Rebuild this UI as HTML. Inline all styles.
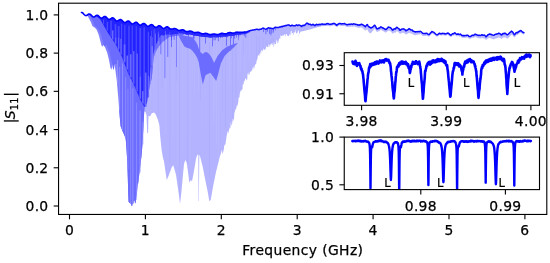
<!DOCTYPE html>
<html><head><meta charset="utf-8"><title>S11 plot</title>
<style>
html,body{margin:0;padding:0;background:#fff;width:550px;height:263px;overflow:hidden}
svg{display:block}
.t{font-family:"DejaVu Sans","Liberation Sans",sans-serif;font-size:13.889px;fill:#000;letter-spacing:0.3px;stroke:#000;stroke-width:0.25px}
.s{font-family:"DejaVu Sans","Liberation Sans",sans-serif;font-size:11.57px;fill:#000;stroke:#000;stroke-width:0.2px}
</style></head><body>
<svg width="550" height="263" viewBox="0 0 550 263">
<defs>
<clipPath id="mainclip"><rect x="58.55" y="3.2" width="488.25" height="211.25"/></clipPath>
<clipPath id="i2clip"><rect x="344.25" y="137.1" width="195.25" height="52.5"/></clipPath>
</defs>
<rect width="550" height="263" fill="#fff"/>
<g clip-path="url(#mainclip)">
<path d="M142.5 23.94 L142.7 23.81 L142.9 23.68 L143.1 23.6 L143.3 23.52 L143.5 23.47 L143.7 23.45 L143.9 23.44 L144.1 23.49 L144.3 23.55 L144.5 23.65 L144.7 23.77 L144.9 23.9 L145.1 24.08 L145.3 24.26 L145.5 24.46 L145.7 24.67 L145.9 24.88 L146.1 25.09 L146.3 25.3 L146.5 25.5 L146.7 25.68 L146.9 25.87 L147.1 25.99 L147.3 26.12 L147.5 26.22 L147.7 26.27 L147.9 26.33 L148.1 26.32 L148.3 26.3 L148.5 26.26 L148.7 26.17 L148.9 26.09 L149.1 25.96 L149.3 25.83 L149.5 25.69 L149.7 25.53 L149.9 25.38 L150.1 25.24 L150.3 25.1 L150.5 24.98 L150.7 24.87 L150.9 24.76 L151.1 24.71 L151.3 24.66 L151.5 24.64 L151.7 24.66 L151.9 24.68 L152.1 24.76 L152.3 24.85 L152.5 24.97 L152.7 25.12 L152.9 25.26 L153.1 25.45 L153.3 25.64 L153.5 25.84 L153.7 26.04 L153.9 26.25 L154.1 26.44 L154.3 26.63 L154.5 26.8 L154.7 26.95 L154.9 27.11 L155.1 27.2 L155.3 27.29 L155.5 27.35 L155.7 27.37 L155.9 27.4 L156.1 27.35 L156.3 27.3 L156.5 27.23 L156.7 27.13 L156.9 27.02 L157.1 26.88 L157.3 26.75 L157.5 26.6 L157.7 26.45 L157.9 26.31 L158.1 26.18 L158.3 26.05 L158.5 25.94 L158.7 25.86 L158.9 25.77 L159.1 25.75 L159.3 25.73 L159.5 25.74 L159.7 25.79 L159.9 25.84 L160.1 25.96 L160.3 26.08 L160.5 26.22 L160.7 26.39 L160.9 26.56 L161.1 26.76 L161.3 26.96 L161.5 27.16 L161.7 27.36 L161.9 27.56 L162.1 27.74 L162.3 27.91 L162.5 28.06 L162.7 28.19 L162.9 28.32 L163.1 28.38 L163.3 28.44 L163.5 28.46 L163.7 28.45 L163.9 28.44 L164.1 28.37 L164.3 28.29 L164.5 28.19 L164.7 28.07 L164.9 27.95 L165.1 27.8 L165.3 27.65 L165.5 27.51 L165.7 27.36 L165.9 27.22 L166.1 27.11 L166.3 27 L166.5 26.91 L166.7 26.86 L166.9 26.8 L167.1 26.81 L167.3 26.82 L167.5 26.86 L167.7 26.94 L167.9 27.03 L168.1 27.17 L168.3 27.32 L168.5 27.49 L168.7 27.68 L168.9 27.87 L169.1 28.08 L169.3 28.29 L169.5 28.5 L169.7 28.7 L169.9 28.9 L170.1 28.89 L170.3 28.89 L170.5 28.93 L170.7 29 L170.9 29.07 L171.1 29.1 L171.3 29.14 L171.5 29.15 L171.7 29.15 L171.9 29.14 L172.1 29.11 L172.3 29.07 L172.5 29.03 L172.7 28.97 L172.9 28.91 L173.1 28.85 L173.3 28.79 L173.5 28.73 L173.7 28.67 L173.9 28.62 L174.1 28.59 L174.3 28.56 L174.5 28.55 L174.7 28.55 L174.9 28.55 L175.1 28.6 L175.3 28.64 L175.5 28.7 L175.7 28.78 L175.9 28.86 L176.1 28.96 L176.3 29.07 L176.5 29.19 L176.7 29.32 L176.9 29.44 L177.1 29.57 L177.3 29.7 L177.5 29.82 L177.7 29.93 L177.9 30.05 L178.1 30.14 L178.3 30.23 L178.5 30.3 L178.7 30.35 L178.9 30.4 L179.1 30.42 L179.3 30.43 L179.5 30.43 L179.7 30.41 L179.9 30.39 L180.1 30.34 L180.3 30.29 L180.5 30.23 L180.7 30.17 L180.9 30.11 L181.1 30.04 L181.3 29.98 L181.5 29.93 L181.7 29.88 L181.9 29.84 L182.1 29.82 L182.3 29.8 L182.5 29.8 L182.7 29.82 L182.9 29.84 L183.1 29.9 L183.3 29.96 L183.5 30.03 L183.7 30.13 L183.9 30.22 L184.1 30.34 L184.3 30.45 L184.5 30.58 L184.7 30.7 L184.9 30.83 L185.1 30.96 L185.3 31.08 L185.5 31.19 L185.7 31.3 L185.9 31.4 L186.1 31.47 L186.3 31.55 L186.5 31.6 L186.7 31.63 L186.9 31.66 L187.1 31.66 L187.3 31.65 L187.5 31.63 L187.7 31.59 L187.9 31.55 L188.1 31.49 L188.3 31.43 L188.5 31.37 L188.7 31.3 L188.9 31.23 L189.1 31.17 L189.3 31.11 L189.5 31.06 L189.7 31.03 L189.9 30.99 L190.1 31.04 L190.3 31.1 L190.5 31.14 L190.7 31.18 L190.9 31.21 L191.1 31.27 L191.3 31.33 L191.5 31.4 L191.7 31.49 L191.9 31.57 L192.1 31.67 L192.3 31.76 L192.5 31.86 L192.7 31.96 L192.9 32.06 L193.1 32.16 L193.3 32.25 L193.5 32.33 L193.7 32.4 L193.9 32.48 L194.1 32.52 L194.3 32.57 L194.5 32.6 L194.7 32.62 L194.9 32.64 L195.1 32.63 L195.3 32.62 L195.5 32.6 L195.7 32.57 L195.9 32.54 L196.1 32.5 L196.3 32.46 L196.5 32.42 L196.7 32.38 L196.9 32.34 L197.1 32.31 L197.3 32.29 L197.5 32.27 L197.7 32.26 L197.9 32.25 L198.1 32.27 L198.3 32.29 L198.5 32.33 L198.7 32.37 L198.9 32.42 L199.1 32.5 L199.3 32.57 L199.5 32.66 L199.7 32.75 L199.9 32.84 L200.1 32.95 L200.3 33.05 L200.5 33.15 L200.7 33.25 L200.9 33.35 L201.1 33.44 L201.3 33.53 L201.5 33.6 L201.7 33.67 L201.9 33.73 L202.1 33.77 L202.3 33.8 L202.5 33.82 L202.7 33.83 L202.9 33.84 L203.1 33.82 L203.3 33.8 L203.5 33.78 L203.7 33.74 L203.9 33.71 L204.1 33.67 L204.3 33.62 L204.5 33.58 L204.7 33.53 L204.9 33.49 L205.1 33.45 L205.3 33.42 L205.5 33.4 L205.7 33.39 L205.9 33.38 L206.1 33.4 L206.3 33.42 L206.5 33.45 L206.7 33.5 L206.9 33.55 L207.1 33.62 L207.3 33.69 L207.5 33.77 L207.7 33.85 L207.9 33.94 L208.1 34.03 L208.3 34.12 L208.5 34.21 L208.7 34.29 L208.9 34.37 L209.1 34.43 L209.3 34.5 L209.5 34.55 L209.7 34.59 L209.9 34.62 L210.1 34.63 L210.3 34.64 L210.5 34.64 L210.7 34.62 L210.9 34.6 L211.1 34.56 L211.3 34.52 L211.5 34.47 L211.7 34.42 L211.9 34.37 L212.1 34.31 L212.3 34.26 L212.5 34.21 L212.7 34.17 L212.9 34.13 L213.1 34.1 L213.3 34.08 L213.5 34.06 L213.7 34.04 L213.9 34.02 L214.1 34.02 L214.3 34.02 L214.5 34.03 L214.7 34.05 L214.9 34.08 L215.1 34.12 L215.3 34.17 L215.5 34.21 L215.7 34.27 L215.9 34.32 L216.1 34.37 L216.3 34.43 L216.5 34.47 L216.7 34.51 L216.9 34.55 L217.1 34.57 L217.3 34.59 L217.5 34.59 L217.7 34.58 L217.9 34.57 L218.1 34.53 L218.3 34.49 L218.5 34.44 L218.7 34.37 L218.9 34.31 L219.1 34.23 L219.3 34.15 L219.5 34.06 L219.7 33.97 L219.9 33.88 L220.1 33.79 L220.3 33.71 L220.5 33.63 L220.7 33.56 L220.9 33.49 L221.1 33.44 L221.3 33.4 L221.5 33.37 L221.7 33.35 L221.9 33.33 L222.1 33.34 L222.3 33.35 L222.5 33.37 L222.7 33.4 L222.9 33.44 L223.1 33.49 L223.3 33.53 L223.5 33.58 L223.7 33.64 L223.9 33.69 L224.1 33.73 L224.3 33.78 L224.5 33.82 L224.7 33.84 L224.9 33.87 L225.1 33.88 L225.3 33.88 L225.5 33.87 L225.7 33.84 L225.9 33.82 L226.1 33.76 L226.3 33.71 L226.5 33.64 L226.7 33.57 L226.9 33.49 L227.1 33.4 L227.3 33.31 L227.5 33.22 L227.7 33.13 L227.9 33.04 L228.1 32.96 L228.3 32.87 L228.5 32.8 L228.7 32.74 L228.9 32.68 L229.1 32.64 L229.3 32.61 L229.5 32.58 L229.7 32.58 L229.9 32.57 L230.1 32.59 L230.3 32.61 L230.5 32.64 L230.7 32.68 L230.9 32.72 L231.1 32.77 L231.3 32.82 L231.5 32.88 L231.7 32.93 L231.9 32.98 L232.1 33.03 L232.3 33.07 L232.5 33.11 L232.7 33.13 L232.9 33.16 L233.1 33.16 L233.3 33.15 L233.5 33.14 L233.7 33.1 L233.9 33.07 L234.1 33.02 L234.3 32.96 L234.5 32.89 L234.7 32.82 L234.9 32.74 L235.1 32.66 L235.3 32.57 L235.5 32.49 L235.7 32.41 L235.9 32.33 L236.1 32.27 L236.3 32.22 L236.5 32.19 L236.7 32.17 L236.9 32.15 L237.1 32.16 L237.3 32.17 L237.5 32.18 L237.7 32.21 L237.9 32.23 L238.1 32.26 L238.3 32.28 L238.5 32.31 L238.7 32.32 L238.9 32.34 L239.1 32.35 L239.3 32.35 L239.5 32.34 L239.7 32.33 L239.9 32.31 L240.1 32.3 L240.3 32.29 L240.5 32.28 L240.7 32.28 L240.9 32.27 L241.1 32.26 L241.3 32.25 L241.5 32.25 L241.7 32.24 L241.9 32.23 L242.1 32.23 L242.3 32.22 L242.5 32.21 L242.7 32.21 L242.9 32.2 L243.1 32.19 L243.3 32.18 L243.5 32.18 L243.7 32.17 L243.9 32.16 L244.1 32.16 L244.3 32.15 L244.5 32.14 L244.7 32.14 L244.9 32.13 L245.1 32.12 L245.3 32.11 L245.5 32.09 L245.7 32.05 L245.9 32.02 L246.1 31.95 L246.3 31.89 L246.5 31.82 L246.7 31.75 L246.9 31.68 L247.1 31.62 L247.3 31.55 L247.5 31.48 L247.7 31.41 L247.9 31.33 L248.1 31.27 L248.3 31.2 L248.5 31.13 L248.7 31.05 L248.9 30.98 L249.1 30.92 L249.3 30.87 L249.5 30.82 L249.7 30.77 L249.9 30.72 L250.1 30.66 L250.3 30.6 L250.5 30.56 L250.7 30.52 L250.9 30.49 L251.1 30.43 L251.3 30.38 L251.5 30.33 L251.7 30.29 L251.9 30.25 L252.1 30.19 L252.3 30.13 L252.5 30.08 L252.7 30.04 L252.9 30 L253.1 29.95 L253.3 29.9 L253.5 29.87 L253.7 29.85 L253.9 29.83 L254.1 29.8 L254.3 29.77 L254.5 29.73 L254.7 29.7 L254.9 29.66 L255.1 29.6 L255.3 29.55 L255.5 29.5 L255.7 29.46 L255.9 29.43 L256.1 29.4 L256.3 29.37 L256.5 29.36 L256.7 29.36 L256.9 29.37 L257.1 29.36 L257.3 29.35 L257.5 29.39 L257.7 29.49 L257.9 29.6 L258.1 29.61 L258.3 29.62 L258.5 29.63 L258.7 29.64 L258.9 29.65 L259.1 29.6 L259.3 29.56 L259.5 29.48 L259.7 29.36 L259.9 29.25 L260.1 29.25 L260.3 29.26 L260.5 29.25 L260.7 29.23 L260.9 29.2 L261.1 29.15 L261.3 29.1 L261.5 29 L261.7 28.85 L261.9 28.69 L262.1 28.59 L262.3 28.48 L262.5 28.37 L262.7 28.24 L262.9 28.11 L263.1 28.14 L263.3 28.18 L263.5 28.22 L263.7 28.26 L263.9 28.31 L264.1 28.43 L264.3 28.54 L264.5 28.65 L264.7 28.76 L264.9 28.87 L265.1 28.97 L265.3 29.07 L265.5 29.14 L265.7 29.17 L265.9 29.2 L266.1 29.12 L266.3 29.03 L266.5 28.96 L266.7 28.91 L266.9 28.86 L267.1 28.67 L267.3 28.49 L267.5 28.34 L267.7 28.22 L267.9 28.1 L268.1 27.99 L268.3 27.88 L268.5 27.84 L268.7 27.86 L268.9 27.87 L269.1 27.92 L269.3 27.96 L269.5 27.99 L269.7 27.99 L269.9 27.99 L270.1 28.09 L270.3 28.19 L270.5 28.26 L270.7 28.32 L270.9 28.37 L271.1 28.37 L271.3 28.36 L271.5 28.39 L271.7 28.43 L271.9 28.47 L272.1 28.51 L272.3 28.55 L272.5 28.58 L272.7 28.61 L272.9 28.64 L273.1 28.6 L273.3 28.56 L273.5 28.5 L273.7 28.42 L273.9 28.34 L274.1 28.1 L274.3 27.86 L274.5 27.66 L274.7 27.51 L274.9 27.36 L275.1 27.27 L275.3 27.18 L275.5 27.17 L275.7 27.24 L275.9 27.31 L276.1 27.36 L276.3 27.41 L276.5 27.43 L276.7 27.43 L276.9 27.42 L277.1 27.47 L277.3 27.52 L277.5 27.55 L277.7 27.57 L277.9 27.58 L278.1 27.58 L278.3 27.58 L278.5 27.53 L278.7 27.43 L278.9 27.32 L279.1 27.19 L279.3 27.05 L279.5 26.98 L279.7 26.97 L279.9 26.97 L280.1 26.99 L280.3 27.01 L280.5 26.95 L280.7 26.82 L280.9 26.69 L281.1 26.61 L281.3 26.53 L281.5 26.49 L281.7 26.49 L281.9 26.48 L282.1 26.59 L282.3 26.7 L282.5 26.67 L282.7 26.49 L282.9 26.31 L283.1 26.28 L283.3 26.24 L283.5 26.19 L283.7 26.13 L283.9 26.07 L284.1 26.06 L284.3 26.05 L284.5 25.99 L284.7 25.87 L284.9 25.76 L285.1 25.68 L285.3 25.6 L285.5 25.59 L285.7 25.63 L285.9 25.67 L286.1 25.65 L286.3 25.63 L286.5 25.55 L286.7 25.41 L286.9 25.27 L287.1 25.2 L287.3 25.13 L287.5 25.05 L287.7 24.97 L287.9 24.88 L288.1 24.92 L288.3 24.95 L288.5 24.95 L288.7 24.91 L288.9 24.87 L289.1 25.06 L289.3 25.24 L289.5 25.4 L289.7 25.52 L289.9 25.64 L290.1 25.79 L290.3 25.93 L290.5 25.94 L290.7 25.82 L290.9 25.7 L291.1 25.6 L291.3 25.51 L291.5 25.41 L291.7 25.32 L291.9 25.22 L292.1 25.27 L292.3 25.32 L292.5 25.37 L292.7 25.43 L292.9 25.48 L293.1 25.63 L293.3 25.78 L293.5 25.85 L293.7 25.86 L293.9 25.86 L294.1 25.81 L294.3 25.76 L294.5 25.71 L294.7 25.65 L294.9 25.6 L295.1 25.67 L295.3 25.74 L295.5 25.68 L295.7 25.47 L295.9 25.27 L296.1 25.11 L296.3 24.95 L296.5 24.88 L296.7 24.91 L296.9 24.94 L297.1 25.14 L297.3 25.34 L297.5 25.45 L297.7 25.47 L297.9 25.5 L298.1 25.33 L298.3 25.17 L298.5 25.1 L298.7 25.11 L298.9 25.11 L299.1 25.12 L299.3 25.12 L299.5 25.17 L299.7 25.28 L299.9 25.38 L300.1 25.43 L300.3 25.49 L300.5 25.58 L300.7 25.72 L300.9 25.86 L301.1 26.07 L301.3 26.28 L301.5 26.36 L301.7 26.29 L301.9 26.22 L302.1 25.9 L302.3 25.57 L302.5 25.41 L302.7 25.4 L302.9 25.4 L303.1 25.38 L303.3 25.36 L303.5 25.37 L303.7 25.42 L303.9 25.46 L304.1 25.39 L304.3 25.31 L304.5 25.22 L304.7 25.11 L304.9 25 L305.1 24.86 L305.3 24.73 L305.5 24.52 L305.7 24.23 L305.9 23.94 L306.1 23.75 L306.3 23.57 L306.5 23.4 L306.7 23.26 L306.9 23.11 L307.1 23.16 L307.3 23.21 L307.5 23.29 L307.7 23.41 L307.9 23.52 L308.1 23.68 L308.3 23.84 L308.5 23.99 L308.7 24.15 L308.9 24.3 L309.1 24.25 L309.3 24.2 L309.5 24.17 L309.7 24.15 L309.9 24.14 L310.1 24.21 L310.3 24.29 L310.5 24.39 L310.7 24.54 L310.9 24.69 L311.1 24.86 L311.3 25.03 L311.5 25.06 L311.7 24.96 L311.9 24.85 L312.1 24.79 L312.3 24.73 L312.5 24.6 L312.7 24.39 L312.9 24.17 L313.1 24.31 L313.3 24.44 L313.5 24.58 L313.7 24.73 L313.9 24.88 L314.1 25.08 L314.3 25.28 L314.5 25.42 L314.7 25.48 L314.9 25.55 L315.1 25.39 L315.3 25.23 L315.5 25.06 L315.7 24.88 L315.9 24.69 L316.1 24.55 L316.3 24.41 L316.5 24.37 L316.7 24.43 L316.9 24.48 L317.1 24.6 L317.3 24.71 L317.5 24.76 L317.7 24.73 L317.9 24.71 L318.1 24.69 L318.3 24.66 L318.5 24.6 L318.7 24.48 L318.9 24.37 L319.1 24.39 L319.3 24.4 L319.5 24.4 L319.7 24.37 L319.9 24.34 L320.1 24.4 L320.3 24.46 L320.5 24.49 L320.7 24.5 L320.9 24.52 L321.1 24.36 L321.3 24.21 L321.5 24.08 L321.7 23.98 L321.9 23.88 L322.1 23.9 L322.3 23.93 L322.5 24.01 L322.7 24.16 L322.9 24.3 L323.1 24.31 L323.3 24.31 L323.5 24.3 L323.7 24.28 L323.9 24.26 L324.1 24.22 L324.3 24.17 L324.5 24.15 L324.7 24.16 L324.9 24.16 L325.1 24.18 L325.3 24.21 L325.5 24.22 L325.7 24.22 L325.9 24.22 L326.1 24.06 L326.3 23.89 L326.5 23.81 L326.7 23.8 L326.9 23.8 L327.1 23.72 L327.3 23.63 L327.5 23.58 L327.7 23.58 L327.9 23.57 L328.1 23.63 L328.3 23.69 L328.5 23.8 L328.7 23.96 L328.9 24.13 L329.1 24.19 L329.3 24.25 L329.5 24.3 L329.7 24.32 L329.9 24.35 L330.1 24.3 L330.3 24.26 L330.5 24.21 L330.7 24.17 L330.9 24.12 L331.1 24.13 L331.3 24.14 L331.5 24.1 L331.7 24.01 L331.9 23.92 L332.1 23.88 L332.3 23.83 L332.5 23.79 L332.7 23.74 L332.9 23.7 L333.1 23.56 L333.3 23.41 L333.5 23.39 L333.7 23.48 L333.9 23.58 L334.1 23.51 L334.3 23.45 L334.5 23.48 L334.7 23.62 L334.9 23.75 L335.1 23.86 L335.3 23.97 L335.5 24.14 L335.7 24.38 L335.9 24.61 L335.9 24.61 L335.7 24.63 L335.5 24.65 L335.3 24.67 L335.1 24.69 L334.9 24.71 L334.7 24.73 L334.5 24.75 L334.3 24.77 L334.1 24.79 L333.9 24.81 L333.7 24.83 L333.5 24.85 L333.3 24.87 L333.1 24.89 L332.9 24.91 L332.7 24.93 L332.5 24.95 L332.3 24.97 L332.1 24.99 L331.9 25.01 L331.7 25.03 L331.5 25.05 L331.3 25.07 L331.1 25.09 L330.9 25.11 L330.7 25.13 L330.5 25.15 L330.3 25.17 L330.1 25.19 L329.9 25.21 L329.7 25.23 L329.5 25.25 L329.3 25.27 L329.1 25.29 L328.9 25.31 L328.7 25.33 L328.5 25.35 L328.3 25.37 L328.1 25.39 L327.9 25.41 L327.7 25.43 L327.5 25.45 L327.3 25.47 L327.1 25.49 L326.9 25.51 L326.7 25.53 L326.5 25.55 L326.3 25.57 L326.1 25.59 L325.9 25.61 L325.7 25.63 L325.5 25.65 L325.3 25.67 L325.1 25.69 L324.9 25.71 L324.7 25.73 L324.5 25.75 L324.3 25.77 L324.1 25.79 L323.9 25.81 L323.7 25.83 L323.5 25.85 L323.3 25.87 L323.1 25.89 L322.9 25.91 L322.7 25.93 L322.5 25.95 L322.3 25.97 L322.1 25.99 L321.9 26.03 L321.7 26.08 L321.5 26.13 L321.3 26.19 L321.1 26.24 L320.9 26.29 L320.7 26.35 L320.5 26.4 L320.3 26.45 L320.1 26.51 L319.9 26.56 L319.7 26.61 L319.5 26.67 L319.3 26.72 L319.1 26.77 L318.9 26.83 L318.7 26.88 L318.5 26.93 L318.3 26.99 L318.1 27.04 L317.9 27.09 L317.7 27.15 L317.5 27.2 L317.3 27.25 L317.1 27.31 L316.9 27.36 L316.7 27.41 L316.5 27.47 L316.3 27.52 L316.1 27.57 L315.9 27.63 L315.7 27.7 L315.5 27.76 L315.3 27.82 L315.1 27.89 L314.9 27.95 L314.7 28.01 L314.5 28.08 L314.3 28.14 L314.1 28.2 L313.9 28.27 L313.7 28.33 L313.5 28.39 L313.3 28.46 L313.1 28.52 L312.9 28.58 L312.7 28.65 L312.5 28.71 L312.3 28.77 L312.1 28.84 L311.9 28.9 L311.7 28.96 L311.5 29.03 L311.3 29.09 L311.1 29.15 L310.9 29.22 L310.7 29.28 L310.5 29.34 L310.3 29.41 L310.1 29.47 L309.9 29.52 L309.7 29.57 L309.5 29.62 L309.3 29.66 L309.1 29.71 L308.9 29.75 L308.7 29.8 L308.5 29.85 L308.3 29.89 L308.1 29.94 L307.9 29.98 L307.7 30.03 L307.5 30.08 L307.3 30.12 L307.1 30.17 L306.9 30.21 L306.7 30.26 L306.5 30.31 L306.3 30.35 L306.1 30.4 L305.9 30.44 L305.7 30.49 L305.5 30.54 L305.3 30.58 L305.1 30.63 L304.9 30.67 L304.7 30.72 L304.5 30.77 L304.3 30.81 L304.1 30.86 L303.9 30.9 L303.7 30.95 L303.5 31 L303.3 31.04 L303.1 31.09 L302.9 31.13 L302.7 31.18 L302.5 31.23 L302.3 31.27 L302.1 31.32 L301.9 31.36 L301.7 31.41 L301.5 31.46 L301.3 31.5 L301.1 31.55 L300.9 31.59 L300.7 31.64 L300.5 31.69 L300.3 31.73 L300.1 31.78 L299.9 33.11 L299.7 33.16 L299.5 33.83 L299.3 33.88 L299.1 33.93 L298.9 31.1 L298.7 31.15 L298.5 31.19 L298.3 30.07 L298.1 30.12 L297.9 30.17 L297.7 32.59 L297.5 32.64 L297.3 32.69 L297.1 32.97 L296.9 33.02 L296.7 33.07 L296.5 33.61 L296.3 33.66 L296.1 33.71 L295.9 29.85 L295.7 29.9 L295.5 29.95 L295.3 31.4 L295.1 31.45 L294.9 31.5 L294.7 32.6 L294.5 32.65 L294.3 32.7 L294.1 32.31 L293.9 32.36 L293.7 32.4 L293.5 34.84 L293.3 34.89 L293.1 34.94 L292.9 32.89 L292.7 32.94 L292.5 32.99 L292.3 32.85 L292.1 32.9 L291.9 32.94 L291.7 30.84 L291.5 30.88 L291.3 30.93 L291.1 31.32 L290.9 31.37 L290.7 31.42 L290.5 35.27 L290.3 35.32 L290.1 35.37 L289.9 33.92 L289.7 33.95 L289.5 33.99 L289.3 35.56 L289.1 35.59 L288.9 35.63 L288.7 36.13 L288.5 36.17 L288.3 36.2 L288.1 35.74 L287.9 35.77 L287.7 35.81 L287.5 35.46 L287.3 35.49 L287.1 35.53 L286.9 33.89 L286.7 33.93 L286.5 33.96 L286.3 34.11 L286.1 34.15 L285.9 34.18 L285.7 36.32 L285.5 36.35 L285.3 36.38 L285.1 34.37 L284.9 34.4 L284.7 34.44 L284.5 33.99 L284.3 34.14 L284.1 34.3 L283.9 34.95 L283.7 35.11 L283.5 35.27 L283.3 36.27 L283.1 36.43 L282.9 36.59 L282.7 35.11 L282.5 35.27 L282.3 35.42 L282.1 35.66 L281.9 35.81 L281.7 35.97 L281.5 35.82 L281.3 35.97 L281.1 36.13 L280.9 35.11 L280.7 35.26 L280.5 35.42 L280.3 38.63 L280.1 38.79 L279.9 38.98 L279.7 38 L279.5 38.22 L279.3 38.44 L279.1 39.37 L278.9 39.59 L278.7 39.81 L278.5 42.12 L278.3 42.34 L278.1 42.56 L277.9 43.05 L277.7 43.29 L277.5 43.52 L277.3 40.84 L277.1 41.07 L276.9 41.31 L276.7 39.63 L276.5 39.86 L276.3 40.1 L276.1 43.85 L275.9 44.09 L275.7 44.32 L275.5 43.7 L275.3 43.93 L275.1 44.17 L274.9 44.29 L274.7 44.52 L274.5 44.66 L274.3 42.28 L274.1 42.32 L273.9 42.36 L273.7 47.1 L273.5 47.13 L273.3 47.17 L273.1 42.82 L272.9 42.86 L272.7 42.9 L272.5 44.93 L272.3 44.97 L272.1 45.01 L271.9 43.17 L271.7 43.2 L271.5 43.24 L271.3 44.47 L271.1 44.51 L270.9 44.54 L270.7 44.23 L270.5 44.27 L270.3 44.31 L270.1 47.02 L269.9 47.06 L269.7 47.1 L269.5 45.08 L269.3 45.12 L269.1 45.16 L268.9 44.55 L268.7 44.58 L268.5 44.62 L268.3 46.93 L268.1 46.96 L267.9 47 L267.7 47.07 L267.5 47.1 L267.3 47.14 L267.1 47.05 L266.9 47.09 L266.7 47.13 L266.5 45.76 L266.3 45.98 L266.1 46.2 L265.9 49.14 L265.7 49.36 L265.5 49.58 L265.3 48.45 L265.1 48.67 L264.9 48.88 L264.7 49.75 L264.5 49.97 L264.3 50.18 L264.1 49.78 L263.9 50 L263.7 50.22 L263.5 48.04 L263.3 48.26 L263.1 48.48 L262.9 50.91 L262.7 51.13 L262.5 51.35 L262.3 50.08 L262.1 50.32 L261.9 50.58 L261.7 50.03 L261.5 50.3 L261.3 50.56 L261.1 53.42 L260.9 53.69 L260.7 53.95 L260.5 51.62 L260.3 51.89 L260.1 52.15 L259.9 53.49 L259.7 53.75 L259.5 54.02 L259.3 55.88 L259.1 56.14 L258.9 56.41 L258.7 54.7 L258.5 54.96 L258.3 55.23 L258.1 55.24 L257.9 55.79 L257.7 56.33 L257.5 58.75 L257.3 59.29 L257.1 59.84 L256.9 59.56 L256.7 60.1 L256.5 60.64 L256.3 63.34 L256.1 63.88 L255.9 64.43 L255.7 63.76 L255.5 64.3 L255.3 64.84 L255.1 64.62 L254.9 65.16 L254.7 65.71 L254.5 67.51 L254.3 68.05 L254.1 68.32 L253.9 66.3 L253.7 66.57 L253.5 66.84 L253.3 69.32 L253.1 69.59 L252.9 69.86 L252.7 67.46 L252.5 67.73 L252.3 68 L252.1 70.96 L251.9 71.23 L251.7 71.5 L251.5 70.27 L251.3 70.54 L251.1 70.81 L250.9 71.25 L250.7 71.52 L250.5 71.79 L250.3 71.98 L250.1 72.28 L249.9 72.58 L249.7 74.62 L249.5 74.91 L249.3 75.21 L249.1 72.23 L248.9 72.53 L248.7 72.82 L248.5 74.54 L248.3 74.84 L248.1 75.14 L247.9 73.34 L247.7 73.64 L247.5 73.94 L247.3 78.95 L247.1 79.25 L246.9 79.55 L246.7 79.95 L246.5 80.25 L246.3 80.55 L246.1 78.46 L245.9 78.75 L245.7 79.05 L245.5 77.9 L245.3 78.2 L245.1 78.5 L244.9 80.63 L244.7 81.16 L244.5 81.68 L244.3 80.26 L244.1 80.79 L243.9 81.31 L243.7 83.95 L243.5 84.47 L243.3 85 L243.1 83.62 L242.9 84.15 L242.7 84.67 L242.5 88.66 L242.3 89.19 L242.1 89.71 L241.9 90.3 L241.7 90.82 L241.5 91.35 L241.3 89.34 L241.1 89.87 L240.9 90.48 L240.7 90.61 L240.5 91.31 L240.3 92.01 L240.1 92.6 L239.9 93.3 L239.7 94 L239.5 96.7 L239.3 97.4 L239.1 98.1 L238.9 97.03 L238.7 97.83 L238.5 98.63 L238.3 102.26 L238.1 103.06 L237.9 103.86 L237.7 104.89 L237.5 105.69 L237.3 106.49 L237.1 104.43 L236.9 105.2 L236.7 105.93 L236.5 107.5 L236.3 108.23 L236.1 108.97 L235.9 108.59 L235.7 109.32 L235.5 110.05 L235.3 109.97 L235.1 110.7 L234.9 111.43 L234.7 112.3 L234.5 113.03 L234.3 113.77 L234.1 118.18 L233.9 118.81 L233.7 119.35 L233.5 120.28 L233.3 120.82 L233.1 121.35 L232.9 117.87 L232.7 118.4 L232.5 118.94 L232.3 123.11 L232.1 123.64 L231.9 124.18 L231.7 124.89 L231.5 125.42 L231.3 125.96 L231.1 121.79 L230.9 122.34 L230.7 122.91 L230.5 127.3 L230.3 127.87 L230.1 128.45 L229.9 127.16 L229.7 127.74 L229.5 128.31 L229.3 129.26 L229.1 129.83 L228.9 130.41 L228.7 132.32 L228.5 132.9 L228.3 133.47 L228.1 130.45 L227.9 131.02 L227.7 131.59 L227.5 132.36 L227.3 132.93 L227.1 133.76 L226.9 134.96 L226.7 135.78 L226.5 136.61 L226.3 138.85 L226.1 139.68 L225.9 140.5 L225.7 143.01 L225.5 143.83 L225.3 144.62 L225.1 144.74 L224.9 145.53 L224.7 146.31 L224.5 144.34 L224.3 145.12 L224.1 145.91 L223.9 151.02 L223.7 151.81 L223.5 152.59 L223.3 148.8 L223.1 149.59 L222.9 150.38 L222.7 153.7 L222.5 153.58 L222.3 153.45 L222.1 152.53 L221.9 152.41 L221.7 152.28 L221.5 150.39 L221.3 150.26 L221.1 150.14 L220.9 153.55 L220.7 154.09 L220.5 154.64 L220.3 155.18 L220.1 155.73 L219.9 156.41 L219.7 157.22 L219.5 158.04 L219.3 158.85 L219.1 159.67 L218.9 160.48 L218.7 161.3 L218.5 162.09 L218.3 162.89 L218.1 163.68 L217.9 164.47 L217.7 165.26 L217.5 166.06 L217.3 166.85 L217.1 167.64 L216.9 168.43 L216.7 169.23 L216.5 170.02 L216.3 170.81 L216.1 171.6 L215.9 172.49 L215.7 173.48 L215.5 174.46 L215.3 175.45 L215.1 176.43 L214.9 177.42 L214.7 178.4 L214.5 179.39 L214.3 180.37 L214.1 181.36 L213.9 182.34 L213.7 183.33 L213.5 184.31 L213.3 185.3 L213.1 186.43 L212.9 187.56 L212.7 188.69 L212.5 189.82 L212.3 190.95 L212.1 192.08 L211.9 193.22 L211.7 194.35 L211.5 195.48 L211.3 196.61 L211.1 197.74 L210.9 198.87 L210.7 200 L210.5 200.19 L210.3 200.37 L210.1 200.56 L209.9 200.74 L209.7 200.93 L209.5 201.11 L209.3 201.3 L209.1 200.07 L208.9 198.84 L208.7 197.61 L208.5 196.38 L208.3 195.15 L208.1 193.92 L207.9 192.81 L207.7 191.82 L207.5 190.84 L207.3 189.85 L207.1 188.87 L206.9 187.88 L206.7 186.9 L206.5 185.91 L206.3 184.93 L206.1 183.94 L205.9 182.96 L205.7 181.97 L205.5 180.99 L205.3 180 L205.1 178.98 L204.9 177.95 L204.7 176.93 L204.5 175.91 L204.3 174.88 L204.1 173.86 L203.9 172.84 L203.7 171.82 L203.5 170.79 L203.3 169.77 L203.1 168.75 L202.9 167.72 L202.7 166.7 L202.5 165.91 L202.3 165.11 L202.1 164.32 L201.9 163.53 L201.7 162.74 L201.5 161.94 L201.3 161.15 L201.1 160.36 L200.9 159.57 L200.7 158.77 L200.5 157.98 L200.3 157.19 L200.1 156.4 L199.9 155.87 L199.7 155.62 L199.5 155.37 L199.3 155.12 L199.1 178 L198.9 201 L198.7 201 L198.5 201 L198.3 154.7 L198.1 154.7 L197.9 154.7 L197.7 154.7 L197.5 154.7 L197.3 154.7 L197.1 155.32 L196.9 155.93 L196.7 156.55 L196.5 157.16 L196.3 157.78 L196.1 158.39 L195.9 159.32 L195.7 160.55 L195.5 161.78 L195.3 163.01 L195.1 164.24 L194.9 165.47 L194.7 166.7 L194.5 167.84 L194.3 168.99 L194.1 170.13 L193.9 171.27 L193.7 172.41 L193.5 173.56 L193.3 174.7 L193.1 175.72 L192.9 176.73 L192.7 177.75 L192.5 178.76 L192.3 179.78 L192.1 180.79 L191.9 181.2 L191.7 181 L191.5 180.8 L191.3 180.6 L191.1 180.4 L190.9 180.2 L190.7 180 L190.5 180.39 L190.3 180.77 L190.1 181.16 L189.9 181.54 L189.7 181.93 L189.5 182.31 L189.3 182.7 L189.1 181.05 L188.9 179.41 L188.7 177.76 L188.5 176.12 L188.3 174.47 L188.1 172.82 L187.9 171.28 L187.7 169.85 L187.5 168.42 L187.3 166.99 L187.1 165.56 L186.9 164.13 L186.7 162.7 L186.5 162.31 L186.3 161.93 L186.1 161.54 L185.9 161.16 L185.7 160.77 L185.5 160.39 L185.3 160 L185.1 160.62 L184.9 161.23 L184.7 161.85 L184.5 162.46 L184.3 163.08 L184.1 163.69 L183.9 165.09 L183.7 167.26 L183.5 169.43 L183.3 171.6 L183.1 173.77 L182.9 175.94 L182.7 178.11 L182.5 180.28 L182.3 182.45 L182.1 184.62 L181.9 186.79 L181.7 188.96 L181.5 191.13 L181.3 193.3 L181.1 194.95 L180.9 196.59 L180.7 198.24 L180.5 199.88 L180.3 201.53 L180.1 203.18 L179.9 203.18 L179.7 201.53 L179.5 199.88 L179.3 198.24 L179.1 196.59 L178.9 194.95 L178.7 193.3 L178.5 191.92 L178.3 190.54 L178.1 189.17 L177.9 187.79 L177.7 186.41 L177.5 185.03 L177.3 183.66 L177.1 182.28 L176.9 180.9 L176.7 179.52 L176.5 178.14 L176.3 176.77 L176.1 175.39 L175.9 174.35 L175.7 173.66 L175.5 172.96 L175.3 172.26 L175.1 171.57 L174.9 170.87 L174.7 170.17 L174.5 169.48 L174.3 168.78 L174.1 168.09 L173.9 167.39 L173.7 166.69 L173.5 166 L173.3 165.3 L173.1 165.52 L172.9 165.73 L172.7 165.95 L172.5 166.16 L172.3 166.38 L172.1 166.59 L171.9 166.97 L171.7 167.5 L171.5 168.03 L171.3 168.56 L171.1 169.09 L170.9 169.62 L170.7 170.15 L170.5 170.68 L170.3 171.21 L170.1 171.74 L169.9 172.27 L169.7 172.8 L169.5 173.33 L169.3 173.86 L169.1 174.39 L168.9 174.92 L168.7 175.45 L168.5 175.98 L168.3 176.51 L168.1 177.04 L167.9 177.51 L167.7 177.92 L167.5 178.34 L167.3 178.75 L167.1 179.17 L166.9 179.58 L166.7 180 L166.5 178.61 L166.3 177.23 L166.1 175.84 L165.9 174.46 L165.7 173.07 L165.5 171.69 L165.3 170.3 L165.1 168.92 L164.9 167.53 L164.7 166.15 L164.5 164.76 L164.3 163.38 L164.1 161.99 L163.9 160.97 L163.7 160.31 L163.5 159.65 L163.3 158.99 L163.1 158.33 L162.9 157.43 L162.7 156.29 L162.5 155.14 L162.3 154 L162.1 152.86 L161.9 151.71 L161.7 150.57 L161.5 149 L161.3 147 L161.1 145 L160.9 143 L160.7 141 L160.5 139 L160.3 137 L160.1 135 L159.9 132.26 L159.7 129.51 L159.5 126.77 L159.3 125.02 L159.1 124.27 L158.9 123.52 L158.7 122.77 L158.5 122.02 L158.3 121.27 L158.1 120.52 L157.9 119.77 L157.7 119.17 L157.5 118.7 L157.3 118.23 L157.1 117.76 L156.9 117.29 L156.7 116.82 L156.5 116.35 L156.3 115.88 L156.1 115.41 L155.9 114.94 L155.7 114.47 L155.5 114 L155.3 113.8 L155.1 113.6 L154.9 113.4 L154.7 113.2 L154.5 113 L154.3 112.8 L154.1 112.6 L153.9 112.53 L153.7 112.6 L153.5 112.67 L153.3 112.74 L153.1 112.81 L152.9 112.88 L152.7 112.95 L152.5 113.02 L152.3 113.09 L152.1 113.16 L151.9 113.23 L151.7 113.3 L151.5 113.7 L151.3 114.1 L151.1 114.5 L150.9 114.9 L150.7 115.3 L150.5 115.7 L150.3 116.1 L150.1 116.28 L149.9 116.25 L149.7 116.22 L149.5 116.18 L149.3 116.15 L149.1 116.12 L148.9 116.08 L148.7 116.05 L148.5 116.02 L148.3 121.67 L148.1 133 L147.9 133 L147.7 133 L147.5 133 L147.3 133 L147.1 130.43 L146.9 125.29 L146.7 120.14 L146.5 115 L146.3 114.4 L146.1 113.8 L145.9 113.2 L145.7 112.6 L145.5 112 L145.3 111.92 L145.1 111.84 L144.9 111.76 L144.7 111.68 L144.5 111.6 L144.3 111.52 L144.1 111.44 L143.9 111.36 L143.7 111.28 L143.5 111.2 L143.3 111.12 L143.1 111.04 L142.9 110.4 L142.7 109.2 L142.5 108Z" fill="#b3b3ff"/>
<path d="M87 15.23 L87.4 14.97 L87.8 14.69 L88.2 14.42 L88.6 14.21 L89 14.08 L89.4 14.04 L89.8 14.14 L90.2 14.34 L90.6 14.63 L91 14.99 L91.4 15.41 L91.8 15.83 L92.2 16.23 L92.6 16.56 L93 16.81 L93.4 16.96 L93.8 16.96 L94.2 16.86 L94.6 16.67 L95 16.41 L95.4 16.11 L95.8 15.81 L96.2 15.55 L96.6 15.36 L97 15.26 L97.4 15.26 L97.8 15.41 L98.2 15.66 L98.6 16 L99 16.39 L99.4 16.82 L99.8 17.23 L100.2 17.59 L100.6 17.88 L101 18.08 L101.4 18.16 L101.8 18.1 L102.2 17.95 L102.6 17.72 L103 17.43 L103.4 17.13 L103.8 16.85 L104.2 16.64 L104.6 16.5 L105 16.47 L105.4 16.55 L105.8 16.77 L106.2 17.08 L106.6 17.45 L107 17.87 L107.4 18.3 L107.8 18.69 L108.2 19.01 L108.6 19.25 L109 19.38 L109.4 19.39 L109.8 19.27 L110.2 19.08 L110.6 18.84 L111 18.56 L111.4 18.29 L111.8 18.07 L112.2 17.92 L112.6 17.87 L113 17.93 L113.4 18.1 L113.8 18.4 L114.2 18.78 L114.6 19.21 L115 19.66 L115.4 20.11 L115.8 20.48 L116.2 20.78 L116.6 20.97 L117 21.05 L117.4 21.03 L117.8 20.88 L118.2 20.65 L118.6 20.39 L119 20.12 L119.4 19.86 L119.8 19.68 L120.2 19.58 L120.6 19.58 L121 19.69 L121.4 19.91 L121.8 20.25 L122.2 20.64 L122.6 21.07 L123 21.51 L123.4 21.91 L123.8 22.23 L124.2 22.44 L124.6 22.55 L125 22.56 L125.4 22.45 L125.8 22.23 L126.2 21.97 L126.6 21.68 L127 21.4 L127.4 21.15 L127.8 21.01 L128.2 20.97 L128.6 21.03 L129 21.21 L129.4 21.48 L129.8 21.87 L130.2 22.28 L130.6 22.71 L131 23.12 L131.4 23.48 L131.8 23.73 L132.2 23.88 L132.6 23.91 L133 23.84 L133.4 23.67 L133.8 23.41 L134.2 23.11 L134.6 22.82 L135 22.55 L135.4 22.34 L135.8 22.25 L136.2 22.26 L136.6 22.39 L137 22.62 L137.4 22.94 L137.8 23.35 L138.2 23.77 L138.6 24.19 L139 24.57 L139.4 24.89 L139.8 25.08 L140.2 25.15 L140.6 25.12 L141 24.98 L141.4 24.76 L141.8 24.47 L142.2 24.16 L142.6 23.88 L143 23.64 L143.4 23.48 L143.8 23.44 L144.2 23.52 L144.6 23.71 L145 23.99 L145.4 24.36 L145.8 24.78 L146.2 25.2 L146.6 25.59 L147 25.93 L147.4 26.19 L147.8 26.3 L148.2 26.31 L148.6 26.21 L149 26.03 L149.4 25.76 L149.8 25.46 L150.2 25.17 L150.6 24.93 L151 24.74 L151.4 24.63 L151.8 24.67 L152.2 24.81 L152.6 25.04 L153 25.36 L153.4 25.74 L153.8 26.14 L154.2 26.53 L154.6 26.88 L155 27.15 L155.4 27.34 L155.8 27.39 L156.2 27.33 L156.6 27.18 L157 26.95 L157.4 26.68 L157.8 26.38 L158.2 26.11 L158.6 25.9 L159 25.76 L159.4 25.72 L159.8 25.82 L160.2 26.02 L160.6 26.3 L161 26.66 L161.4 27.05 L161.8 27.46 L162.2 27.82 L162.6 28.13 L163 28.35 L163.4 28.47 L163.8 28.45 L164.2 28.33 L164.6 28.13 L165 27.87 L165.4 27.58 L165.8 27.29 L166.2 27.05 L166.6 26.88 L167 26.8 L167.4 26.82 L167.8 26.99 L168.2 27.25 L168.6 27.59 L169 27.98 L169.4 28.4 L169.8 28.8 L170.2 28.89 L170.6 28.96 L171 29.09 L171.4 29.15 L171.8 29.15 L172.2 29.09 L172.6 29 L173 28.88 L173.4 28.75 L173.8 28.65 L174.2 28.58 L174.6 28.55 L175 28.57 L175.4 28.66 L175.8 28.82 L176.2 29.02 L176.6 29.25 L177 29.51 L177.4 29.76 L177.8 29.99 L178.2 30.18 L178.6 30.32 L179 30.41 L179.4 30.44 L179.8 30.4 L180.2 30.31 L180.6 30.2 L181 30.08 L181.4 29.95 L181.8 29.86 L182.2 29.81 L182.6 29.81 L183 29.87 L183.4 29.99 L183.8 30.17 L184.2 30.4 L184.6 30.64 L185 30.89 L185 33 L184.6 33.42 L184.2 33.83 L183.8 34.25 L183.4 34.67 L183 35.09 L182.6 35.4 L182.2 35.4 L181.8 35.4 L181.4 35.4 L181 35.4 L180.6 35.4 L180.2 35.4 L179.8 35.4 L179.4 35.4 L179 35.4 L178.6 35.4 L178.2 35.4 L177.8 35.4 L177.4 35.42 L177 35.5 L176.6 35.58 L176.2 35.66 L175.8 35.74 L175.4 35.82 L175 35.9 L174.6 35.98 L174.2 36.06 L173.8 36.14 L173.4 36.22 L173 36.3 L172.6 36.38 L172.2 36.46 L171.8 36.54 L171.4 36.62 L171 36.7 L170.6 36.78 L170.2 36.86 L169.8 36.94 L169.4 37.02 L169 37.1 L168.6 37.4 L168.2 37.7 L167.8 38 L167.4 38.31 L167 38.61 L166.6 38.91 L166.2 39.21 L165.8 39.51 L165.4 39.81 L165 40.11 L164.6 40.42 L164.2 40.72 L163.8 41.02 L163.4 41.32 L163 41.62 L162.6 41.92 L162.2 42.22 L161.8 42.69 L161.4 43.22 L161 43.75 L160.6 44.27 L160.2 44.8 L159.8 45.32 L159.4 45.85 L159 46.37 L158.6 46.9 L158.2 47.42 L157.8 47.95 L157.4 48.47 L157 49 L156.6 50.02 L156.2 51.05 L155.8 52.07 L155.4 53.09 L155 54.12 L154.6 55.14 L154.2 56.16 L153.8 57.19 L153.4 59.96 L153 64.47 L152.6 68.98 L152.2 73.49 L151.8 78 L151.4 79.71 L151 81.43 L150.6 83.14 L150.2 84.86 L149.8 86.57 L149.4 88.29 L149 90 L148.6 91.6 L148.2 93.2 L147.8 94.8 L147.4 96.4 L147 98 L146.6 99.6 L146.2 101.2 L145.8 102.57 L145.4 103.71 L145 104.86 L144.6 106 L144.2 112 L143.8 119.29 L143.4 127.86 L143 135 L142.6 141.67 L142.2 147.5 L141.8 152.5 L141.4 156.63 L141 159.89 L140.6 163.14 L140.2 166.4 L139.8 169.66 L139.4 172.91 L139 176.17 L138.6 179.72 L138.2 183.56 L137.8 183.27 L137.4 187.11 L137 192.19 L136.6 195.11 L136.2 197.11 L135.8 201.64 L135.4 203.14 L135 203.14 L134.6 200.54 L134.2 200.54 L133.8 200.54 L133.4 203.56 L133 203.56 L132.6 203.56 L132.2 205.7 L131.8 205.7 L131.4 205.7 L131 203.44 L130.6 203.44 L130.2 203.44 L129.8 203.1 L129.4 203.1 L129 201.94 L128.6 201.88 L128.2 193.38 L127.8 177.4 L127.4 166.4 L127 157.28 L126.6 150.88 L126.2 145.38 L125.8 139.88 L125.4 137.8 L125 136.86 L124.6 135.92 L124.2 134.98 L123.8 134.05 L123.4 133.11 L123 132.17 L122.6 131.23 L122.2 130.25 L121.8 129.25 L121.4 128.25 L121 127.25 L120.6 126.25 L120.2 122.31 L119.8 117.38 L119.4 112.46 L119 107.36 L118.6 102.08 L118.2 96.8 L117.8 92.32 L117.4 87.84 L117 83.36 L116.6 79.24 L116.2 76.19 L115.8 73.14 L115.4 70.1 L115 67.05 L114.6 64 L114.2 64 L113.8 64 L113.4 64 L113 64 L112.6 64 L112.2 65.8 L111.8 68.2 L111.4 69.8 L111 69 L110.6 68.2 L110.2 66.4 L109.8 64.27 L109.4 62.13 L109 60 L108.6 58.35 L108.2 56.71 L107.8 55.06 L107.4 53.41 L107 52.25 L106.6 51.24 L106.2 50.23 L105.8 49.23 L105.4 48.22 L105 47.22 L104.6 46.21 L104.2 45.2 L103.8 44.91 L103.4 45.33 L103 45.75 L102.6 46.17 L102.2 46.59 L101.8 46.18 L101.4 44.94 L101 43.7 L100.6 42.1 L100.2 40.5 L99.8 38.9 L99.4 37.3 L99 35.7 L98.6 34.54 L98.2 33.53 L97.8 32.52 L97.4 31.51 L97 30.5 L96.6 29.75 L96.2 29.25 L95.8 28.75 L95.4 28.25 L95 27.75 L94.6 27.39 L94.2 27.16 L93.8 26.93 L93.4 26.71 L93 26.48 L92.6 26.26 L92.2 25.43 L91.8 24.41 L91.4 23.39 L91 22.37 L90.6 21.41 L90.2 20.66 L89.8 19.9 L89.4 19.14 L89 18.39 L88.6 17.63 L88.2 16.88 L87.8 16.3 L87.4 15.9 L87 15.5Z" fill="#8080ff"/>
<path d="M87 15.23 L87.4 14.97 L87.8 14.69 L88.2 14.42 L88.6 14.21 L89 14.08 L89.4 14.04 L89.8 14.14 L90.2 14.34 L90.6 14.63 L91 14.99 L91.4 15.41 L91.8 15.83 L92.2 16.23 L92.6 16.56 L93 16.81 L93.4 16.96 L93.8 16.96 L94.2 16.86 L94.6 16.67 L95 16.41 L95.4 16.11 L95.8 15.81 L96.2 15.55 L96.6 15.36 L97 15.26 L97.4 15.26 L97.8 15.41 L98.2 15.66 L98.6 16 L99 16.39 L99.4 16.82 L99.8 17.23 L100.2 17.59 L100.6 17.88 L101 18.08 L101.4 18.16 L101.8 18.1 L102.2 17.95 L102.6 17.72 L103 17.43 L103.4 17.13 L103.8 16.85 L104.2 16.64 L104.6 16.5 L105 16.47 L105.4 16.55 L105.8 16.77 L106.2 17.08 L106.6 17.45 L107 17.87 L107.4 18.3 L107.8 18.69 L108.2 19.01 L108.6 19.25 L109 19.38 L109.4 19.39 L109.8 19.27 L110.2 19.08 L110.6 18.84 L111 18.56 L111.4 18.29 L111.8 18.07 L112.2 17.92 L112.6 17.87 L113 17.93 L113.4 18.1 L113.8 18.4 L114.2 18.78 L114.6 19.21 L115 19.66 L115.4 20.11 L115.8 20.48 L116.2 20.78 L116.6 20.97 L117 21.05 L117.4 21.03 L117.8 20.88 L118.2 20.65 L118.6 20.39 L119 20.12 L119.4 19.86 L119.8 19.68 L120.2 19.58 L120.6 19.58 L121 19.69 L121.4 19.91 L121.8 20.25 L122.2 20.64 L122.6 21.07 L123 21.51 L123.4 21.91 L123.8 22.23 L124.2 22.44 L124.6 22.55 L125 22.56 L125.4 22.45 L125.8 22.23 L126.2 21.97 L126.6 21.68 L127 21.4 L127.4 21.15 L127.8 21.01 L128.2 20.97 L128.6 21.03 L129 21.21 L129.4 21.48 L129.8 21.87 L130.2 22.28 L130.6 22.71 L131 23.12 L131.4 23.48 L131.8 23.73 L132.2 23.88 L132.6 23.91 L133 23.84 L133.4 23.67 L133.8 23.41 L134.2 23.11 L134.6 22.82 L135 22.55 L135.4 22.34 L135.8 22.25 L136.2 22.26 L136.6 22.39 L137 22.62 L137.4 22.94 L137.8 23.35 L138.2 23.77 L138.6 24.19 L139 24.57 L139.4 24.89 L139.8 25.08 L140.2 25.15 L140.6 25.12 L141 24.98 L141.4 24.76 L141.8 24.47 L142.2 24.16 L142.6 23.88 L143 23.64 L143.4 23.48 L143.8 23.44 L144.2 23.52 L144.6 23.71 L145 23.99 L145.4 24.36 L145.8 24.78 L146.2 25.2 L146.6 25.59 L147 25.93 L147.4 26.19 L147.8 26.3 L148.2 26.31 L148.6 26.21 L149 26.03 L149.4 25.76 L149.8 25.46 L150.2 25.17 L150.6 24.93 L151 24.74 L151.4 24.63 L151.8 24.67 L152.2 24.81 L152.6 25.04 L153 25.36 L153.4 25.74 L153.8 26.14 L154.2 26.53 L154.6 26.88 L155 27.15 L155.4 27.34 L155.8 27.39 L156.2 27.33 L156.6 27.18 L157 26.95 L157.4 26.68 L157.8 26.38 L158.2 26.11 L158.6 25.9 L159 25.76 L159.4 25.72 L159.8 25.82 L160.2 26.02 L160.6 26.3 L161 26.66 L161.4 27.05 L161.8 27.46 L162.2 27.82 L162.6 28.13 L163 28.35 L163.4 28.47 L163.8 28.45 L164.2 28.33 L164.6 28.13 L165 27.87 L165.4 27.58 L165.8 27.29 L166.2 27.05 L166.6 26.88 L167 26.8 L167.4 26.82 L167.8 26.99 L168.2 27.25 L168.6 27.59 L169 27.98 L169.4 28.4 L169.8 28.8 L170.2 28.89 L170.6 28.96 L171 29.09 L171.4 29.15 L171.8 29.15 L172.2 29.09 L172.6 29 L173 28.88 L173.4 28.75 L173.8 28.65 L174.2 28.58 L174.6 28.55 L175 28.57 L175.4 28.66 L175.8 28.82 L176.2 29.02 L176.6 29.25 L177 29.51 L177.4 29.76 L177.8 29.99 L178.2 30.18 L178.6 30.32 L179 30.41 L179.4 30.44 L179.8 30.4 L180.2 30.31 L180.6 30.2 L181 30.08 L181.4 29.95 L181.8 29.86 L182.2 29.81 L182.6 29.81 L183 29.87 L183.4 29.99 L183.8 30.17 L184.2 30.4 L184.6 30.64 L185 30.89 L185 33 L184.6 33.42 L184.2 33.83 L183.8 34.25 L183.4 34.67 L183 35.09 L182.6 35.4 L182.2 35.4 L181.8 35.4 L181.4 35.4 L181 35.4 L180.6 35.4 L180.2 35.4 L179.8 35.4 L179.4 35.4 L179 35.4 L178.6 35.4 L178.2 35.4 L177.8 35.4 L177.4 35.42 L177 35.5 L176.6 35.58 L176.2 35.66 L175.8 35.74 L175.4 35.82 L175 35.9 L174.6 35.98 L174.2 36.06 L173.8 36.14 L173.4 36.22 L173 36.3 L172.6 36.38 L172.2 36.46 L171.8 36.54 L171.4 36.62 L171 36.7 L170.6 36.78 L170.2 36.86 L169.8 36.94 L169.4 37.02 L169 37.1 L168.6 37.4 L168.2 37.7 L167.8 38 L167.4 38.31 L167 38.61 L166.6 38.91 L166.2 39.21 L165.8 39.51 L165.4 39.81 L165 40.11 L164.6 40.42 L164.2 40.72 L163.8 41.02 L163.4 41.32 L163 41.62 L162.6 41.92 L162.2 42.22 L161.8 42.69 L161.4 43.22 L161 43.75 L160.6 44.27 L160.2 44.8 L159.8 45.32 L159.4 45.85 L159 46.37 L158.6 46.9 L158.2 47.42 L157.8 47.95 L157.4 48.47 L157 49 L156.6 50.02 L156.2 51.05 L155.8 52.07 L155.4 53.09 L155 54.12 L154.6 55.14 L154.2 56.16 L153.8 57.19 L153.4 59.96 L153 64.47 L152.6 68.98 L152.2 73.49 L151.8 78 L151.4 79.71 L151 81.43 L150.6 83.14 L150.2 84.86 L149.8 86.57 L149.4 88.29 L149 90 L148.6 91.6 L148.2 93.2 L147.8 94.8 L147.4 96.4 L147 98 L146.6 99.6 L146.2 101.2 L145.8 102.57 L145.4 103.71 L145 104.86 L144.6 106 L144.2 112 L143.8 119.29 L143.4 127.86 L143 135 L142.6 141.67 L142.2 147.5 L141.8 152.5 L141.4 156.63 L141 159.89 L140.6 163.14 L140.2 166.4 L139.8 169.66 L139.4 172.91 L139 176.17 L138.6 179.72 L138.2 183.56 L137.8 183.27 L137.4 187.11 L137 192.19 L136.6 195.11 L136.2 197.11 L135.8 201.64 L135.4 203.14 L135 203.14 L134.6 200.54 L134.2 200.54 L133.8 200.54 L133.4 203.56 L133 203.56 L132.6 203.56 L132.2 205.7 L131.8 205.7 L131.4 205.7 L131 203.44 L130.6 203.44 L130.2 203.44 L129.8 203.1 L129.4 203.1 L129 201.94 L128.6 201.88 L128.2 193.38 L127.8 177.4 L127.4 166.4 L127 157.28 L126.6 150.88 L126.2 145.38 L125.8 139.88 L125.4 137.8 L125 136.86 L124.6 135.92 L124.2 134.98 L123.8 134.05 L123.4 133.11 L123 132.17 L122.6 131.23 L122.2 130.25 L121.8 129.25 L121.4 128.25 L121 127.25 L120.6 126.25 L120.2 122.31 L119.8 117.38 L119.4 112.46 L119 80 L118.6 76.95 L118.2 73.9 L117.8 70.86 L117.4 67.81 L117 64.76 L116.6 64 L116.2 64 L115.8 64 L115.4 64 L115 64 L114.6 65.2 L114.2 67.6 L113.8 70 L113.4 69.2 L113 68.4 L112.6 66.93 L112.2 64.8 L111.8 62.67 L111.4 60.53 L111 58.76 L110.6 57.12 L110.2 55.47 L109.8 53.82 L109.4 52.5 L109 51.49 L108.6 50.48 L108.2 49.48 L107.8 48.47 L107.4 47.47 L107 46.46 L106.6 45.45 L106.2 44.8 L105.8 45.22 L105.4 45.64 L105 46.06 L104.6 46.48 L104.2 46.49 L103.8 45.25 L103.4 44.01 L103 42.5 L102.6 40.9 L102.2 39.3 L101.8 37.7 L101.4 36.1 L101 34.8 L100.6 33.79 L100.2 32.78 L99.8 31.77 L99.4 30.76 L99 29.88 L98.6 29.38 L98.2 28.88 L97.8 28.38 L97.4 27.88 L97 27.44 L96.6 27.22 L96.2 26.99 L95.8 26.77 L95.4 26.54 L95 26.31 L94.6 25.69 L94.2 24.67 L93.8 23.64 L93.4 22.62 L93 21.6 L92.6 20.84 L92.2 20.09 L91.8 19.33 L91.4 18.58 L91 17.82 L90.6 17.07 L90.2 16.4 L89.8 16 L89.4 15.6 L89 15.5 L88.6 15.5 L88.2 15.5 L87.8 15.5 L87.4 15.5 L87 15.5Z" fill="#6c6cff"/>
<path d="M96 15.67 L96.5 15.39 L97 15.26 L97.5 15.3 L98 15.52 L98.5 15.9 L99 16.39 L99.5 16.92 L100 17.42 L100.5 17.82 L101 18.08 L101.5 18.15 L102 18.04 L102.5 17.78 L103 17.43 L103.5 17.06 L104 16.73 L104.5 16.52 L105 16.47 L105.5 16.6 L106 16.91 L106.5 17.35 L107 17.87 L107.5 18.4 L108 18.87 L108.5 19.2 L109 19.38 L109.5 19.36 L110 19.19 L110.5 18.9 L111 18.56 L111.5 18.23 L112 17.98 L112.5 17.87 L113 17.93 L113.5 18.17 L114 18.58 L114.5 19.1 L115 19.66 L115.5 20.2 L116 20.64 L116.5 20.94 L117 21.05 L117.5 20.99 L118 20.78 L118.5 20.46 L119 20.12 L119.5 19.81 L120 19.62 L120.5 19.56 L121 19.69 L121.5 19.99 L122 20.44 L122.5 20.96 L123 21.51 L123.5 21.99 L124 22.35 L124.5 22.54 L125 22.56 L125.5 22.4 L126 22.11 L126.5 21.75 L127 21.4 L127.5 21.12 L128 20.97 L128.5 21 L129 21.21 L129.5 21.58 L130 22.07 L130.5 22.6 L131 23.12 L131.5 23.54 L132 23.82 L132.5 23.92 L133 23.84 L133.5 23.61 L134 23.27 L134.5 22.89 L135 22.55 L135.5 22.32 L136 22.24 L136.5 22.34 L137 22.62 L137.5 23.04 L138 23.56 L138.5 24.09 L139 24.57 L139.5 24.93 L140 25.13 L140.5 25.14 L141 24.98 L141.5 24.69 L142 24.32 L142.5 23.94 L143 23.64 L143.5 23.47 L144 23.47 L144.5 23.65 L145 23.99 L145.5 24.46 L146 24.99 L146.5 25.5 L147 25.93 L147.5 26.22 L148 26.33 L148.5 26.26 L149 26.03 L149.5 25.69 L150 25.31 L150.5 24.98 L151 24.74 L151.5 24.64 L152 24.72 L152.5 24.97 L153 25.36 L153.5 25.84 L154 26.34 L154.5 26.8 L155 27.15 L155.5 27.35 L156 27.37 L156.5 27.23 L157 26.95 L157.5 26.6 L158 26.24 L158.5 25.94 L159 25.76 L159.5 25.74 L160 25.9 L160.5 26.22 L161 26.66 L161.5 27.16 L162 27.65 L162.5 28.06 L163 28.35 L163.5 28.46 L164 28.4 L164.5 28.19 L165 27.87 L165.5 27.51 L166 27.16 L166.5 26.91 L167 26.8 L167.5 26.86 L168 27.1 L168.5 27.49 L169 27.98 L169.5 28.5 L170 28.9 L170.5 28.93 L171 29.09 L171.5 29.15 L172 29.13 L172.5 29.03 L173 28.88 L173.5 28.73 L174 28.61 L174.5 28.55 L175 28.57 L175.5 28.7 L176 28.91 L176.5 29.19 L177 29.51 L177.5 29.82 L178 30.09 L178.5 30.3 L179 30.41 L179.5 30.43 L180 30.36 L180.5 30.23 L181 30.08 L181.5 29.93 L182 29.83 L182.5 29.8 L183 29.87 L183.5 30.03 L184 30.28 L184.5 30.58 L185 30.89 L185.5 31.19 L186 31.44 L186.5 31.6 L187 31.66 L187.5 31.63 L188 31.52 L188.5 31.37 L189 31.2 L189.5 31.06 L190 31.02 L190.5 31.14 L191 31.24 L191.5 31.4 L192 31.62 L192.5 31.86 L193 32.11 L193.5 32.33 L194 32.5 L194.5 32.6 L195 32.63 L195.5 32.6 L196 32.52 L196.5 32.42 L197 32.33 L197.5 32.27 L198 32.26 L198.5 32.33 L199 32.46 L199.5 32.66 L200 32.9 L200.5 33.15 L201 33.4 L201.5 33.6 L202 33.75 L202.5 33.82 L203 33.83 L203.5 33.78 L204 33.69 L204.5 33.58 L205 33.47 L205.5 33.4 L206 33.39 L206.5 33.45 L207 33.58 L207.5 33.77 L208 33.98 L208.5 34.21 L209 34.4 L209.5 34.55 L210 34.63 L210.5 34.64 L211 34.58 L211.5 34.47 L212 34.34 L212.5 34.21 L213 34.11 L213.5 34.06 L214 34.02 L214.5 34.03 L215 34.1 L215.5 34.21 L216 34.35 L216.5 34.47 L217 34.56 L217.5 34.59 L218 34.55 L218.5 34.44 L219 34.27 L219.5 34.06 L220 33.84 L220.5 33.63 L221 33.47 L221.5 33.37 L222 33.33 L222.5 33.37 L223 33.46 L223.5 33.58 L224 33.71 L224.5 33.82 L225 33.87 L225.5 33.87 L226 33.79 L226.5 33.64 L227 33.45 L227.5 33.22 L228 33 L228.5 32.8 L229 32.66 L229.5 32.58 L230 32.58 L230.5 32.64 L231 32.75 L231.5 32.88 L232 33 L232.5 33.11 L233 33.16 L233.5 33.14 L234 33.04 L234.5 32.89 L235 32.7 L235.5 32.49 L236 32.3 L236.5 32.19 L237 32.15 L237.5 32.18 L238 32.24 L238.5 32.31 L239 32.34 L239.5 32.34 L240 32.31 L240.5 32.28 L241 32.26 L241.5 32.25 L242 32.23 L242.5 32.21 L243 32.19 L243.5 32.18 L244 32.16 L244.5 32.14 L245 32.12 L245.5 32.09 L246 31.99 L246.5 31.82 L247 31.65 L247.5 31.48 L248 31.3 L248 32.5 L247.5 32.61 L247 32.71 L246.5 32.82 L246 32.92 L245.5 33.03 L245 33.14 L244.5 33.24 L244 33.35 L243.5 33.46 L243 33.56 L242.5 33.67 L242 33.78 L241.5 33.88 L241 33.99 L240.5 34.09 L240 34.2 L239.5 34.29 L239 34.38 L238.5 34.47 L238 34.56 L237.5 34.65 L237 34.74 L236.5 34.83 L236 34.92 L235.5 35.01 L235 35.1 L234.5 35.19 L234 35.28 L233.5 35.37 L233 35.46 L232.5 35.55 L232 35.64 L231.5 35.73 L231 35.82 L230.5 35.91 L230 36 L229.5 36.05 L229 36.1 L228.5 36.15 L228 36.2 L227.5 36.25 L227 36.3 L226.5 36.35 L226 36.4 L225.5 36.45 L225 36.5 L224.5 36.55 L224 36.6 L223.5 36.65 L223 36.7 L222.5 36.75 L222 36.8 L221.5 36.85 L221 36.9 L220.5 36.95 L220 37 L219.5 37.02 L219 37.05 L218.5 37.08 L218 37.1 L217.5 37.12 L217 37.15 L216.5 37.17 L216 37.2 L215.5 37.23 L215 37.25 L214.5 37.27 L214 37.3 L213.5 37.33 L213 37.35 L212.5 37.38 L212 37.4 L211.5 37.42 L211 37.45 L210.5 37.48 L210 37.5 L209.5 37.45 L209 37.4 L208.5 37.35 L208 37.3 L207.5 37.25 L207 37.2 L206.5 37.15 L206 37.1 L205.5 37.05 L205 37 L204.5 36.95 L204 36.9 L203.5 36.85 L203 36.8 L202.5 36.75 L202 36.7 L201.5 36.65 L201 36.6 L200.5 36.55 L200 36.5 L199.5 36.4 L199 36.3 L198.5 36.2 L198 36.1 L197.5 36 L197 35.9 L196.5 35.8 L196 35.7 L195.5 35.6 L195 35.5 L194.5 35.4 L194 35.3 L193.5 35.2 L193 35.1 L192.5 35 L192 34.9 L191.5 34.8 L191 34.7 L190.5 34.6 L190 34.5 L189.5 34.42 L189 34.33 L188.5 34.25 L188 34.17 L187.5 34.08 L187 34 L186.5 33.92 L186 33.83 L185.5 33.75 L185 33.67 L184.5 33.58 L184 33.5 L183.5 33.42 L183 33.33 L182.5 33.25 L182 33.17 L181.5 33.08 L181 33 L180.5 33.1 L180 33.2 L179.5 33.3 L179 33.4 L178.5 33.5 L178 33.6 L177.5 33.7 L177 33.8 L176.5 33.9 L176 34 L175.5 34.04 L175 34.08 L174.5 34.12 L174 34.17 L173.5 34.21 L173 34.25 L172.5 34.29 L172 34.33 L171.5 34.38 L171 34.42 L170.5 34.46 L170 34.5 L169.5 34.5 L169 34.5 L168.5 34.5 L168 34.5 L167.5 34.5 L167 34.5 L166.5 34.5 L166 34.5 L165.5 34.5 L165 34.5 L164.5 34.5 L164 34.5 L163.5 34.5 L163 34.5 L162.5 34.5 L162 34.5 L161.5 35 L161 35.5 L160.5 36 L160 36.5 L159.5 37.38 L159 38.25 L158.5 39.12 L158 40 L157.5 41.2 L157 42.4 L156.5 43.6 L156 44.8 L155.5 46 L155 47.8 L154.5 49.6 L154 51.4 L153.5 53.2 L153 55 L152.5 58 L152 61 L151.5 64 L151 67 L150.5 70 L150 75 L149.5 80 L149 85 L148.5 90 L148 95 L147.5 99 L147 103 L146.5 103.8 L146 104.6 L145.5 105.4 L145 106.2 L144.5 107 L144 106.25 L143.5 105.5 L143 104.75 L142.5 104 L142 103 L141.5 102 L141 101 L140.5 100 L140 99 L139.5 97.83 L139 96.67 L138.5 95.5 L138 94.33 L137.5 93.17 L137 92 L136.5 90.83 L136 89.67 L135.5 88.5 L135 87.33 L134.5 86.17 L134 85 L133.5 84 L133 83 L132.5 82 L132 81 L131.5 80 L131 79 L130.5 78 L130 77 L129.5 76 L129 75 L128.5 74 L128 73 L127.5 71.67 L127 70.33 L126.5 69 L126 67.67 L125.5 66.33 L125 65 L124.5 63.67 L124 62.33 L123.5 61 L123 59.67 L122.5 58.33 L122 57 L121.5 56 L121 55 L120.5 54 L120 53 L119.5 52 L119 51 L118.5 50 L118 49 L117.5 48 L117 47 L116.5 46 L116 45 L115.5 44.25 L115 43.5 L114.5 42.75 L114 42 L113.5 41.25 L113 40.5 L112.5 39.75 L112 39 L111.5 38.25 L111 37.5 L110.5 36.75 L110 36 L109.5 35.25 L109 34.5 L108.5 33.75 L108 33 L107.5 32.12 L107 31.25 L106.5 30.38 L106 29.5 L105.5 28.62 L105 27.75 L104.5 26.88 L104 26 L103.5 25.12 L103 24.25 L102.5 23.38 L102 22.5 L101.5 21.62 L101 20.75 L100.5 19.88 L100 19 L99.5 18.62 L99 18.25 L98.5 17.88 L98 17.5 L97.5 17.12 L97 16.75 L96.5 16.38 L96 16Z" fill="#2323ff"/>
<rect x="103" y="19.66" width="1.12" height="4.59" fill="#5252ff" opacity="0.85"/>
<rect x="106.65" y="21.9" width="1.44" height="8.73" fill="#5252ff" opacity="0.85"/>
<rect x="110.33" y="20.56" width="1.49" height="15.93" fill="#5252ff" opacity="0.85"/>
<rect x="114.65" y="24.17" width="1.68" height="18.8" fill="#5252ff" opacity="0.85"/>
<rect x="117.8" y="25.95" width="1.79" height="22.65" fill="#5252ff" opacity="0.85"/>
<rect x="121.03" y="23.74" width="1.12" height="31.32" fill="#5252ff" opacity="0.85"/>
<rect x="124.19" y="25.2" width="1.23" height="37.64" fill="#5252ff" opacity="0.85"/>
<rect x="128.26" y="25.74" width="1.38" height="47.77" fill="#5252ff" opacity="0.85"/>
<rect x="131.7" y="25.62" width="1.17" height="54.79" fill="#5252ff" opacity="0.85"/>
<rect x="135.7" y="26.17" width="1.14" height="62.8" fill="#5252ff" opacity="0.85"/>
<rect x="139.37" y="27.97" width="1.78" height="69.56" fill="#5252ff" opacity="0.85"/>
<rect x="143.38" y="27.39" width="1.54" height="77.92" fill="#5252ff" opacity="0.85"/>
<rect x="147.71" y="31.72" width="1.37" height="65.63" fill="#5252ff" opacity="0.85"/>
<rect x="151.04" y="29.41" width="1.15" height="37.34" fill="#5252ff" opacity="0.85"/>
<rect x="154.55" y="28.62" width="1.36" height="20.79" fill="#5252ff" opacity="0.85"/>
<rect x="157.65" y="29.15" width="1.73" height="11.69" fill="#5252ff" opacity="0.85"/>
<rect x="112" y="30.38" width="1.45" height="9.12" fill="#6a6aff"/>
<rect x="115.19" y="37.55" width="1.14" height="6.73" fill="#6a6aff"/>
<rect x="118.08" y="37.44" width="1.05" height="12.23" fill="#6a6aff"/>
<rect x="120.32" y="38.69" width="1.24" height="15.44" fill="#6a6aff"/>
<rect x="123.64" y="44.42" width="1.75" height="17.45" fill="#6a6aff"/>
<rect x="126.48" y="55.5" width="1.65" height="13.94" fill="#6a6aff"/>
<rect x="129.9" y="54.25" width="1.65" height="23.06" fill="#6a6aff"/>
<rect x="133.13" y="51.04" width="1.27" height="32.72" fill="#6a6aff"/>
<rect x="136.51" y="53.61" width="1.27" height="37.75" fill="#6a6aff"/>
<rect x="139.69" y="76.49" width="1.37" height="22.28" fill="#6a6aff"/>
<rect x="142.01" y="91.16" width="1.61" height="12.36" fill="#6a6aff"/>
<rect x="144.93" y="72.58" width="1.59" height="34.22" fill="#6a6aff"/>
<rect x="147.8" y="75.67" width="1.14" height="21.4" fill="#6a6aff"/>
<rect x="151.27" y="46.1" width="1.59" height="19.76" fill="#6a6aff"/>
<rect x="117" y="59.96" width="1.12" height="23.4" fill="#9a9aff" opacity="0.75"/>
<rect x="119.22" y="66.8" width="0.9" height="43.5" fill="#9a9aff" opacity="0.75"/>
<rect x="121.99" y="63.35" width="1.04" height="66.37" fill="#9a9aff" opacity="0.75"/>
<rect x="125.24" y="77.14" width="0.89" height="60.27" fill="#9a9aff" opacity="0.75"/>
<rect x="127.52" y="88.61" width="0.88" height="80.45" fill="#9a9aff" opacity="0.75"/>
<rect x="130.28" y="79.39" width="0.88" height="124.11" fill="#9a9aff" opacity="0.75"/>
<rect x="132.27" y="88.41" width="1.13" height="115.09" fill="#9a9aff" opacity="0.75"/>
<rect x="136.21" y="102.67" width="0.86" height="97.27" fill="#9a9aff" opacity="0.75"/>
<rect x="139.46" y="110.27" width="1.2" height="62.18" fill="#9a9aff" opacity="0.75"/>
<rect x="142.43" y="122.08" width="0.95" height="22.4" fill="#9a9aff" opacity="0.75"/>
<rect x="263" y="28.12" width="0.8" height="4" fill="#3c3cff" opacity="0.7"/>
<rect x="265.5" y="29.14" width="0.8" height="5" fill="#3c3cff" opacity="0.7"/>
<rect x="267" y="28.76" width="0.8" height="3" fill="#3c3cff" opacity="0.7"/>
<rect x="269" y="27.9" width="0.8" height="6" fill="#3c3cff" opacity="0.7"/>
<rect x="270.5" y="28.26" width="0.8" height="7" fill="#3c3cff" opacity="0.7"/>
<rect x="271.5" y="28.39" width="0.8" height="5" fill="#3c3cff" opacity="0.7"/>
<rect x="273" y="28.62" width="0.8" height="4" fill="#3c3cff" opacity="0.7"/>
<rect x="275" y="27.32" width="0.8" height="3" fill="#3c3cff" opacity="0.7"/>
<rect x="160.5" y="26.22" width="0.8" height="28" fill="#3c3cff" opacity="0.7"/>
<rect x="164.6" y="28.13" width="0.8" height="50" fill="#3c3cff" opacity="0.7"/>
<rect x="167.4" y="26.82" width="0.8" height="30" fill="#3c3cff" opacity="0.7"/>
<rect x="171" y="29.09" width="0.8" height="18" fill="#3c3cff" opacity="0.7"/>
<rect x="176.1" y="28.96" width="0.8" height="38" fill="#3c3cff" opacity="0.7"/>
<rect x="182" y="29.83" width="0.8" height="12" fill="#3c3cff" opacity="0.7"/>
<rect x="188" y="31.52" width="0.8" height="14" fill="#3c3cff" opacity="0.7"/>
<rect x="193" y="32.11" width="0.8" height="10" fill="#3c3cff" opacity="0.7"/>
<rect x="205" y="33.47" width="0.8" height="10" fill="#3c3cff" opacity="0.7"/>
<rect x="212" y="34.34" width="0.8" height="12" fill="#3c3cff" opacity="0.7"/>
<rect x="226" y="33.79" width="0.8" height="12" fill="#3c3cff" opacity="0.7"/>
<rect x="230" y="32.58" width="0.8" height="18" fill="#3c3cff" opacity="0.7"/>
<rect x="233" y="33.16" width="0.8" height="14" fill="#3c3cff" opacity="0.7"/>
<rect x="238" y="32.24" width="0.8" height="8" fill="#3c3cff" opacity="0.7"/>
<rect x="156" y="27.37" width="0.8" height="2.23" fill="#3c3cff" opacity="0.7"/>
<rect x="158.82" y="25.8" width="0.8" height="2.58" fill="#3c3cff" opacity="0.7"/>
<rect x="161.47" y="27.13" width="0.8" height="5.34" fill="#3c3cff" opacity="0.7"/>
<rect x="164.88" y="27.96" width="0.8" height="3.66" fill="#3c3cff" opacity="0.7"/>
<rect x="166.75" y="26.84" width="0.8" height="3.59" fill="#3c3cff" opacity="0.7"/>
<rect x="169.11" y="28.09" width="0.8" height="5.52" fill="#3c3cff" opacity="0.7"/>
<rect x="171.06" y="29.1" width="0.8" height="10.98" fill="#3c3cff" opacity="0.7"/>
<rect x="173.72" y="28.67" width="0.8" height="11.22" fill="#3c3cff" opacity="0.7"/>
<rect x="175.87" y="28.84" width="0.8" height="4.21" fill="#3c3cff" opacity="0.7"/>
<rect x="177.97" y="30.08" width="0.8" height="2.5" fill="#3c3cff" opacity="0.7"/>
<rect x="193.66" y="32.39" width="0.8" height="6.5" fill="#3c3cff" opacity="0.7"/>
<rect x="199.32" y="32.58" width="0.8" height="31.63" fill="#3c3cff" opacity="0.7"/>
<rect x="213.58" y="34.05" width="0.8" height="6.28" fill="#3c3cff" opacity="0.7"/>
<rect x="214.86" y="34.07" width="0.8" height="6.15" fill="#3c3cff" opacity="0.7"/>
<rect x="217.9" y="34.57" width="0.8" height="6.55" fill="#3c3cff" opacity="0.7"/>
<rect x="220.14" y="33.78" width="0.8" height="4.42" fill="#3c3cff" opacity="0.7"/>
<rect x="221.7" y="33.35" width="0.8" height="4.66" fill="#3c3cff" opacity="0.7"/>
<rect x="225.02" y="33.87" width="0.8" height="2.29" fill="#3c3cff" opacity="0.7"/>
<rect x="227.03" y="33.43" width="0.8" height="3.76" fill="#3c3cff" opacity="0.7"/>
<rect x="229.1" y="32.64" width="0.8" height="2.85" fill="#3c3cff" opacity="0.7"/>
<rect x="231.11" y="32.78" width="0.8" height="5.51" fill="#3c3cff" opacity="0.7"/>
<rect x="234.25" y="32.97" width="0.8" height="5.8" fill="#3c3cff" opacity="0.7"/>
<rect x="236.25" y="32.24" width="0.8" height="5.24" fill="#3c3cff" opacity="0.7"/>
<rect x="238.43" y="32.3" width="0.8" height="4.93" fill="#3c3cff" opacity="0.7"/>
<rect x="240.31" y="32.29" width="0.8" height="2.94" fill="#3c3cff" opacity="0.7"/>
<rect x="243.87" y="32.16" width="0.8" height="4.04" fill="#3c3cff" opacity="0.7"/>
<rect x="245.39" y="32.11" width="0.8" height="5.55" fill="#3c3cff" opacity="0.7"/>
<path d="M150 25.31 L150.5 24.98 L151 24.74 L151.5 24.64 L152 24.72 L152.5 24.97 L153 25.36 L153.5 25.84 L154 26.34 L154.5 26.8 L155 27.15 L155.5 27.35 L156 27.37 L156.5 27.23 L157 26.95 L157.5 26.6 L158 26.24 L158.5 25.94 L159 25.76 L159.5 25.74 L160 25.9 L160.5 26.22 L161 26.66 L161.5 27.16 L162 27.65 L162.5 28.06 L163 28.35 L163.5 28.46 L164 28.4 L164.5 28.19 L165 27.87 L165.5 27.51 L166 27.16 L166.5 26.91 L167 26.8 L167.5 26.86 L168 27.1 L168.5 27.49 L169 27.98 L169.5 28.5 L170 28.9 L170.5 28.93 L171 29.09 L171.5 29.15 L172 29.13 L172.5 29.03 L173 28.88 L173.5 28.73 L174 28.61 L174.5 28.55 L175 28.57 L175.5 28.7 L176 28.91 L176.5 29.19 L177 29.51 L177.5 29.82 L178 30.09 L178.5 30.3 L179 30.41 L179.5 30.43 L180 30.36 L180.5 30.23 L181 30.08 L181.5 29.93 L182 29.83 L182.5 29.8 L183 29.87 L183.5 30.03 L184 30.28 L184.5 30.58 L185 30.89 L185.5 31.19 L186 31.44 L186.5 31.6 L187 31.66 L187.5 31.63 L188 31.52 L188.5 31.37 L189 31.2 L189.5 31.06 L190 31.02 L190.5 31.14 L191 31.24 L191.5 31.4 L192 31.62 L192.5 31.86 L193 32.11 L193.5 32.33 L194 32.5 L194.5 32.6 L195 32.63 L195.5 32.6 L196 32.52 L196.5 32.42 L197 32.33 L197.5 32.27 L198 32.26 L198.5 32.33 L199 32.46 L199.5 32.66 L200 32.9 L200.5 33.15 L201 33.4 L201.5 33.6 L202 33.75 L202.5 33.82 L203 33.83 L203.5 33.78 L204 33.69 L204.5 33.58 L205 33.47 L205.5 33.4 L206 33.39 L206.5 33.45 L207 33.58 L207.5 33.77 L208 33.98 L208.5 34.21 L209 34.4 L209.5 34.55 L210 34.63 L210.5 34.64 L211 34.58 L211.5 34.47 L212 34.34 L212.5 34.21 L213 34.11 L213.5 34.06 L214 34.02 L214.5 34.03 L215 34.1 L215.5 34.21 L216 34.35 L216.5 34.47 L217 34.56 L217.5 34.59 L218 34.55 L218.5 34.44 L219 34.27 L219.5 34.06 L220 33.84 L220.5 33.63 L221 33.47 L221.5 33.37 L222 33.33 L222.5 33.37 L223 33.46 L223.5 33.58 L224 33.71 L224.5 33.82 L225 33.87 L225.5 33.87 L226 33.79 L226.5 33.64 L227 33.45 L227.5 33.22 L228 33 L228.5 32.8 L229 32.66 L229.5 32.58 L230 32.58 L230.5 32.64 L231 32.75 L231.5 32.88 L232 33 L232.5 33.11 L233 33.16 L233.5 33.14 L234 33.04 L234.5 32.89 L235 32.7 L235.5 32.49 L236 32.3 L236.5 32.19 L237 32.15 L237.5 32.18 L238 32.24 L238.5 32.31 L239 32.34 L239.5 32.34 L240 32.31 L240.5 32.28 L241 32.26 L241.5 32.25 L242 32.23 L242.5 32.21 L243 32.19 L243.5 32.18 L244 32.16 L244.5 32.14 L245 32.12 L245.5 32.09 L246 31.99 L246.5 31.82 L247 31.65 L247.5 31.48 L248 31.3 L248.5 31.13 L249 30.95 L249.5 30.82 L250 30.69 L250 32.19 L249.5 32.37 L249 32.55 L248.5 32.78 L248 33 L247.5 33.23 L247 33.45 L246.5 33.67 L246 33.89 L245.5 34.04 L245 34.12 L244.5 34.19 L244 34.26 L243.5 34.33 L243 34.39 L242.5 34.46 L242 34.53 L241.5 34.6 L241 34.66 L240.5 34.73 L240 34.81 L239.5 34.87 L239 34.89 L238.5 34.88 L238 34.84 L237.5 34.81 L237 34.8 L236.5 34.86 L236 35 L235.5 35.21 L235 35.45 L234.5 35.67 L234 35.84 L233.5 35.96 L233 36.01 L232.5 35.98 L232 35.9 L231.5 35.8 L231 35.7 L230.5 35.62 L230 35.58 L229.5 35.58 L229 35.66 L228.5 35.8 L228 36 L227.5 36.22 L227 36.45 L226.5 36.64 L226 36.79 L225.5 36.87 L225 36.87 L224.5 36.82 L224 36.71 L223.5 36.58 L223 36.46 L222.5 36.37 L222 36.33 L221.5 36.37 L221 36.47 L220.5 36.63 L220 36.84 L219.5 37.06 L219 37.27 L218.5 37.44 L218 37.55 L217.5 37.59 L217 37.56 L216.5 37.47 L216 37.35 L215.5 37.21 L215 37.1 L214.5 37.03 L214 37.02 L213.5 37.06 L213 37.11 L212.5 37.21 L212 37.34 L211.5 37.47 L211 37.58 L210.5 37.64 L210 37.63 L209.5 37.55 L209 37.4 L208.5 37.21 L208 36.98 L207.5 36.77 L207 36.58 L206.5 36.45 L206 36.39 L205.5 36.4 L205 36.47 L204.5 36.58 L204 36.69 L203.5 36.78 L203 36.83 L202.5 36.82 L202 36.75 L201.5 36.6 L201 36.4 L200.5 36.15 L200 35.9 L199.5 35.67 L199 35.49 L198.5 35.36 L198 35.31 L197.5 35.33 L197 35.4 L196.5 35.51 L196 35.62 L195.5 35.71 L195 35.76 L194.5 35.74 L194 35.65 L193.5 35.49 L193 35.28 L192.5 35.05 L192 34.82 L191.5 34.61 L191 34.46 L190.5 34.38 L190 34.27 L189.5 34.33 L189 34.48 L188.5 34.65 L188 34.82 L187.5 34.94 L187 34.99 L186.5 34.94 L186 34.79 L185.5 34.55 L185 34.27 L184.5 33.96 L184 33.68 L183.5 33.45 L183 33.3 L182.5 33.24 L182 33.28 L181.5 33.39 L181 33.55 L180.5 33.72 L180 33.86 L179.5 34.05 L179 34.16 L178.5 34.17 L178 34.09 L177.5 33.94 L177 33.76 L176.5 33.57 L176 33.41 L175.5 33.32 L175 33.32 L174.5 33.42 L174 33.61 L173.5 33.85 L173 34.13 L172.5 34.4 L172 34.63 L171.5 34.78 L171 34.84 L170.5 34.8 L170 34.9 L169.5 34.6 L169 34.18 L168.5 33.79 L168 33.5 L167.5 33.36 L167 33.4 L166.5 33.61 L166 33.96 L165.5 34.41 L165 34.87 L164.5 35.29 L164 35.6 L163.5 35.76 L163 35.75 L162.5 35.56 L162 35.25 L161.5 34.86 L161 34.46 L160.5 34.12 L160 33.9 L159.5 33.64 L159 33.56 L158.5 33.64 L158 33.84 L157.5 34.1 L157 34.35 L156.5 34.53 L156 34.57 L155.5 34.45 L155 34.15 L154.5 33.7 L154 33.14 L153.5 32.54 L153 31.96 L152.5 31.47 L152 31.12 L151.5 30.94 L151 30.94 L150.5 31.08 L150 31.31Z" fill="#2a2aff" opacity="0.9"/>
<rect x="150" y="35.92" width="0.7" height="61.83" fill="#c2c2ff" opacity="0.45"/>
<rect x="151.78" y="37.11" width="0.7" height="28.75" fill="#c2c2ff" opacity="0.45"/>
<rect x="153.73" y="29.21" width="0.7" height="57.71" fill="#c2c2ff" opacity="0.45"/>
<rect x="155.32" y="33.2" width="0.7" height="27.49" fill="#a4a4ff" opacity="0.45"/>
<rect x="157.91" y="31.61" width="0.7" height="86.23" fill="#a4a4ff" opacity="0.45"/>
<rect x="161.64" y="35.27" width="0.7" height="51.85" fill="#a4a4ff" opacity="0.45"/>
<rect x="165.3" y="30.96" width="0.7" height="102.82" fill="#c2c2ff" opacity="0.45"/>
<rect x="169.47" y="32.2" width="0.7" height="130.37" fill="#a4a4ff" opacity="0.45"/>
<rect x="172.56" y="38.91" width="0.7" height="102.89" fill="#c2c2ff" opacity="0.45"/>
<rect x="175.94" y="39.25" width="0.7" height="42.13" fill="#a4a4ff" opacity="0.45"/>
<rect x="177.45" y="38.47" width="0.7" height="127.19" fill="#c2c2ff" opacity="0.45"/>
<rect x="179.21" y="39.07" width="0.7" height="155.36" fill="#a4a4ff" opacity="0.45"/>
<rect x="181.86" y="33.76" width="0.7" height="120.85" fill="#c2c2ff" opacity="0.45"/>
<rect x="185.55" y="41.63" width="0.7" height="94.03" fill="#c2c2ff" opacity="0.45"/>
<rect x="187.49" y="38.05" width="0.7" height="125.67" fill="#a4a4ff" opacity="0.45"/>
<rect x="189.59" y="36.55" width="0.7" height="129.07" fill="#c2c2ff" opacity="0.45"/>
<rect x="192.41" y="41.42" width="0.7" height="43.91" fill="#c2c2ff" opacity="0.45"/>
<rect x="194.31" y="38.45" width="0.7" height="58.14" fill="#c2c2ff" opacity="0.45"/>
<rect x="198.02" y="36.29" width="0.7" height="55.36" fill="#c2c2ff" opacity="0.45"/>
<rect x="200.18" y="42.92" width="0.7" height="58.17" fill="#a4a4ff" opacity="0.45"/>
<rect x="201.75" y="42.01" width="0.7" height="87.25" fill="#c2c2ff" opacity="0.45"/>
<rect x="205.73" y="44.83" width="0.7" height="86.88" fill="#c2c2ff" opacity="0.45"/>
<rect x="209.23" y="42.72" width="0.7" height="134.54" fill="#a4a4ff" opacity="0.45"/>
<rect x="213.02" y="43.64" width="0.7" height="80.3" fill="#c2c2ff" opacity="0.45"/>
<rect x="214.58" y="45.75" width="0.7" height="59.83" fill="#c2c2ff" opacity="0.45"/>
<rect x="216.15" y="39.63" width="0.7" height="104.93" fill="#c2c2ff" opacity="0.45"/>
<rect x="218.07" y="42.98" width="0.7" height="116.48" fill="#c2c2ff" opacity="0.45"/>
<rect x="219.66" y="43.77" width="0.7" height="43.49" fill="#c2c2ff" opacity="0.45"/>
<rect x="222.15" y="39.42" width="0.7" height="72.3" fill="#a4a4ff" opacity="0.45"/>
<rect x="225.19" y="39.81" width="0.7" height="88.09" fill="#a4a4ff" opacity="0.45"/>
<rect x="229.38" y="41.68" width="0.7" height="42.27" fill="#c2c2ff" opacity="0.45"/>
<rect x="232.09" y="37.83" width="0.7" height="83.1" fill="#a4a4ff" opacity="0.45"/>
<rect x="235.62" y="42.29" width="0.7" height="55.98" fill="#a4a4ff" opacity="0.45"/>
<rect x="237.85" y="35.94" width="0.7" height="43.23" fill="#c2c2ff" opacity="0.45"/>
<rect x="239.91" y="36.8" width="0.7" height="35.13" fill="#c2c2ff" opacity="0.45"/>
<rect x="242.99" y="39.05" width="0.7" height="15.48" fill="#a4a4ff" opacity="0.45"/>
<rect x="244.74" y="45.08" width="0.7" height="32.94" fill="#c2c2ff" opacity="0.45"/>
<rect x="249.05" y="36.08" width="0.7" height="24.97" fill="#c2c2ff" opacity="0.45"/>
<rect x="252.76" y="39.87" width="0.7" height="13.95" fill="#c2c2ff" opacity="0.45"/>
<rect x="256.05" y="35.63" width="0.7" height="25.46" fill="#a4a4ff" opacity="0.45"/>
<rect x="258.81" y="36.16" width="0.7" height="17.48" fill="#a4a4ff" opacity="0.45"/>
<rect x="262.8" y="37.89" width="0.7" height="10.85" fill="#a4a4ff" opacity="0.45"/>
<rect x="266.47" y="40.19" width="0.7" height="5.86" fill="#a4a4ff" opacity="0.45"/>
<rect x="269.89" y="40.3" width="0.7" height="3.12" fill="#a4a4ff" opacity="0.45"/>
<rect x="271.64" y="37.84" width="0.7" height="5.89" fill="#a4a4ff" opacity="0.45"/>
<rect x="273.17" y="37.86" width="0.7" height="3.8" fill="#a4a4ff" opacity="0.45"/>
<rect x="277.59" y="37.45" width="0.7" height="2.14" fill="#a4a4ff" opacity="0.45"/>
<rect x="281.14" y="34.59" width="0.7" height="1.39" fill="#a4a4ff" opacity="0.45"/>
<rect x="283.63" y="32.94" width="0.7" height="1.21" fill="#a4a4ff" opacity="0.45"/>
<rect x="287.29" y="34.15" width="0.7" height="1" fill="#a4a4ff" opacity="0.45"/>
<rect x="289.59" y="37.26" width="0.7" height="1" fill="#c2c2ff" opacity="0.45"/>
<rect x="291.49" y="32.53" width="0.7" height="1" fill="#a4a4ff" opacity="0.45"/>
<rect x="294.92" y="31.21" width="0.7" height="1" fill="#a4a4ff" opacity="0.45"/>
<rect x="297.99" y="34.71" width="0.7" height="1" fill="#a4a4ff" opacity="0.45"/>
<path d="M178.3 32.1 L178.8 32.49 L179.3 32.89 L179.8 33.28 L180.3 33.68 L180.8 34.07 L181.3 34.47 L181.8 34.86 L182.3 35.15 L182.8 35.29 L183.3 35.42 L183.8 35.55 L184.3 35.69 L184.8 35.82 L185.3 35.93 L185.8 36.01 L186.3 36.08 L186.8 36.16 L187.3 36.23 L187.8 36.31 L188.3 36.39 L188.8 36.46 L189.3 36.54 L189.8 36.63 L190.3 36.76 L190.8 36.89 L191.3 37.03 L191.8 37.16 L192.3 37.29 L192.8 37.53 L193.3 38.18 L193.8 38.83 L194.3 39.49 L194.8 40.14 L195.3 40.91 L195.8 41.76 L196.3 42.6 L196.8 43.45 L197.3 44.3 L197.8 45.8 L198.3 47.3 L198.8 48.8 L199.3 49.83 L199.8 50.87 L200.3 51.9 L200.8 52.38 L201.3 52.86 L201.8 53.33 L202.3 53.81 L202.8 53.9 L203.3 53.4 L203.8 52.9 L204.3 52.54 L204.8 52.39 L205.3 52.23 L205.8 52.08 L206.3 51.93 L206.8 52.16 L207.3 52.49 L207.8 52.81 L208.3 53.14 L208.8 53.53 L209.3 54.18 L209.8 54.83 L210.3 55.49 L210.8 56.14 L211.3 57 L211.8 58 L212.3 59 L212.8 60 L213.3 61 L213.8 62.43 L214.3 62.4 L214.8 61.4 L215.3 60.4 L215.8 59.4 L216.3 58.4 L216.8 57.4 L217.3 56.4 L217.8 55.7 L218.3 55.07 L218.8 54.43 L219.3 53.8 L219.8 53.17 L220.3 52.54 L220.8 51.91 L221.3 51.28 L221.8 50.65 L222.3 50.17 L222.8 49.8 L223.3 49.42 L223.8 49.05 L224.3 48.67 L224.8 48.3 L225.3 47.92 L225.8 47.55 L226.3 47.17 L226.8 46.8 L227.3 46.6 L227.8 46.4 L228.3 46.21 L228.8 46.01 L229.3 45.81 L229.8 45.61 L230.3 45.41 L230.8 45.21 L231.3 45.02 L231.8 44.82 L232.3 44.62 L232.8 44.44 L233.3 44.29 L233.8 44.15 L234.3 44 L234.8 43.85 L235.3 43.71 L235.8 43.56 L236.3 43.42 L236.8 43.3 L237.3 43.17 L237.8 43.05 L237.8 43.2 L237.3 43.7 L236.8 44.2 L236.3 44.7 L235.8 45.23 L235.3 45.8 L234.8 46.36 L234.3 46.93 L233.8 47.5 L233.3 47.93 L232.8 48.35 L232.3 48.78 L231.8 49.2 L231.3 49.63 L230.8 50.05 L230.3 50.48 L229.8 50.9 L229.3 51.33 L228.8 51.8 L228.3 52.3 L227.8 52.8 L227.3 53.3 L226.8 53.8 L226.3 54.3 L225.8 54.8 L225.3 55.3 L224.8 55.8 L224.3 56.4 L223.8 57.42 L223.3 58.43 L222.8 59.45 L222.3 60.46 L221.8 61.47 L221.3 62.49 L220.8 63.69 L220.3 65.65 L219.8 67.61 L219.3 69.57 L218.8 71.52 L218.3 73.42 L217.8 75.23 L217.3 77.03 L216.8 78.83 L216.3 80.64 L215.8 80.4 L215.3 79.65 L214.8 78.9 L214.3 78.15 L213.8 77.4 L213.3 76.73 L212.8 76.06 L212.3 75.39 L211.8 74.71 L211.3 74.04 L210.8 73.37 L210.3 72.7 L209.8 72.94 L209.3 73.19 L208.8 73.43 L208.3 73.68 L207.8 73.92 L207.3 74.17 L206.8 74.41 L206.3 74.66 L205.8 74.9 L205.3 76.02 L204.8 77.71 L204.3 79.41 L203.8 81.11 L203.3 82.8 L202.8 84.5 L202.3 82 L201.8 79.5 L201.3 77 L200.8 74.4 L200.3 71.43 L199.8 68.45 L199.3 65.48 L198.8 62.5 L198.3 60.97 L197.8 59.43 L197.3 57.9 L196.8 57.07 L196.3 56.25 L195.8 55.42 L195.3 54.6 L194.8 53.84 L194.3 53.19 L193.8 52.53 L193.3 51.88 L192.8 51.23 L192.3 50.7 L191.8 50.2 L191.3 49.7 L190.8 49.2 L190.3 48.77 L189.8 48.64 L189.3 48.51 L188.8 48.37 L188.3 48.24 L187.8 48.11 L187.3 47.95 L186.8 47.7 L186.3 47.45 L185.8 47.2 L185.3 46.95 L184.8 46.7 L184.3 46.33 L183.8 45.51 L183.3 44.68 L182.8 43.86 L182.3 43.03 L181.8 42.11 L181.3 41.13 L180.8 40.14 L180.3 39.16 L179.8 38.17 L179.3 37.19 L178.8 35.31 L178.3 32.1Z" fill="#6c6cff"/>
<path d="M300 25.41 L300.5 25.58 L301 25.97 L301.5 26.36 L302 26.06 L302.5 25.41 L303 25.39 L303.5 25.37 L304 25.42 L304.5 25.22 L305 24.93 L305.5 24.52 L306 23.84 L306.5 23.4 L307 23.14 L307.5 23.29 L308 23.6 L308.5 23.99 L309 24.28 L309.5 24.17 L310 24.18 L310.5 24.39 L311 24.77 L311.5 25.06 L312 24.82 L312.5 24.6 L313 24.24 L313.5 24.58 L314 24.98 L314.5 25.42 L315 25.47 L315.5 25.06 L316 24.62 L316.5 24.37 L317 24.54 L317.5 24.76 L318 24.7 L318.5 24.6 L319 24.38 L319.5 24.4 L320 24.37 L320.5 24.49 L321 24.44 L321.5 24.08 L322 23.89 L322.5 24.01 L323 24.3 L323.5 24.3 L324 24.24 L324.5 24.15 L325 24.17 L325.5 24.22 L326 24.14 L326.5 23.81 L327 23.76 L327.5 23.58 L328 23.6 L328.5 23.8 L329 24.16 L329.5 24.3 L330 24.33 L330.5 24.21 L331 24.13 L331.5 24.1 L332 23.9 L332.5 23.79 L333 23.63 L333.5 23.39 L334 23.54 L334.5 23.48 L335 23.81 L335.5 24.14 L336 24.72 L336.5 25.11 L337 24.85 L337.5 24.8 L338 24.16 L338.5 23.93 L339 23.68 L339.5 23.49 L340 23.42 L340.5 23.61 L341 23.89 L341.5 23.92 L342 23.74 L342.5 23.66 L343 23.8 L343.5 23.84 L344 23.74 L344.5 23.51 L345 23.82 L345.5 24.19 L346 24.4 L346.5 24.51 L347 24.74 L347.5 24.67 L348 24.54 L348.5 24.39 L349 24.3 L349.5 24.35 L350 24.43 L350.5 24.29 L351 24.04 L351.5 24.1 L352 24.19 L352.5 24.36 L353 24.08 L353.5 23.85 L354 23.98 L354.5 24.01 L355 24.19 L355.5 24.26 L356 24.49 L356.5 24.5 L357 24.61 L357.5 24.8 L358 25.07 L358.5 25.07 L359 25.21 L359.5 25.06 L360 25.01 L360.5 24.56 L361 24.32 L361.5 24.23 L362 24.59 L362.5 24.6 L363 24.99 L363.5 25.23 L364 25.62 L364.5 26.03 L365 26.27 L365.5 26.51 L366 25.91 L366.5 25.2 L367 24.63 L367.5 24.77 L368 25.76 L368.5 26.44 L369 26.83 L369.5 27.35 L370 27.38 L370.5 27.75 L371 28.01 L371.5 27.68 L372 27.38 L372.5 27.22 L373 26.67 L373.5 26.42 L374 25.71 L374.5 25.35 L375 25.52 L375.5 26.41 L376 27.27 L376.5 28.32 L377 28.87 L377.5 28.73 L378 28.51 L378.5 28.33 L379 28.3 L379.5 27.85 L380 27.59 L380.5 27.06 L381 26.79 L381.5 27.18 L382 27.52 L382.5 27.94 L383 27.93 L383.5 28.3 L384 28.48 L384.5 28.74 L385 29.26 L385.5 29.46 L386 29.19 L386.5 29.07 L387 28.54 L387.5 28.01 L388 27.49 L388.5 27.09 L389 27.26 L389.5 27.36 L390 27.48 L390.5 27.84 L391 28.14 L391.5 28.69 L392 29.46 L392.5 29.98 L393 30.02 L393.5 29.35 L394 28.87 L394.5 28.83 L395 29.02 L395.5 28.84 L396 28.16 L396.5 27.46 L397 27.32 L397.5 27.8 L398 28.1 L398.5 28.38 L399 28.88 L399.5 29.79 L400 30.22 L400.5 30.04 L401 29.54 L401.5 29.44 L402 29 L402.5 29.03 L403 28.88 L403.5 28.87 L404 29.09 L404.5 29.35 L405 29.87 L405.5 30.22 L406 30.84 L406.5 30.45 L407 30.24 L407.5 29.88 L408 29.62 L408.5 29.12 L409 28.83 L409.5 28.89 L410 29.28 L410.5 29.52 L411 29.95 L411.5 29.96 L412 30.12 L412.5 30.29 L413 31.05 L413.5 31.24 L414 31.47 L414.5 31.64 L415 31.86 L415.5 31.91 L416 31.7 L416.5 31.64 L417 31.68 L417.5 31.64 L418 31.63 L418.5 31.63 L419 31.47 L419.5 31.66 L420 31.51 L420.5 31.34 L421 31.65 L421.5 31.98 L422 32.65 L422.5 33.11 L423 33.4 L423.5 33.47 L424 33.48 L424.5 33.55 L425 33.49 L425.5 33.63 L426 33.43 L426.5 33.18 L427 33.43 L427.5 33.89 L428 34.16 L428.5 34.43 L429 34.46 L429.5 34.19 L430 33.58 L430.5 32.93 L431 32.48 L431.5 32.01 L432 31.61 L432.5 31.75 L433 31.99 L433.5 32.21 L434 32.55 L434.5 32.92 L435 33.37 L435.5 33.82 L436 34.32 L436.5 34.67 L437 34.84 L437.5 34.66 L438 34.39 L438.5 33.88 L439 33.39 L439.5 33.32 L440 33.4 L440.5 33.68 L441 33.78 L441.5 33.73 L442 33.44 L442.5 33.41 L443 33.34 L443.5 33.53 L444 33.42 L444.5 33.65 L445 33.98 L445.5 33.89 L446 33.7 L446.5 33.65 L447 33.38 L447.5 33.14 L448 33.04 L448.5 33.38 L449 33.82 L449.5 34.16 L450 34.74 L450.5 35.02 L451 35.05 L451.5 34.54 L452 34.15 L452.5 33.81 L453 33.78 L453.5 33.79 L454 33.46 L454.5 32.94 L455 32.87 L455.5 33.37 L456 33.84 L456.5 34.15 L457 34.16 L457.5 34.11 L458 34.17 L458.5 34.01 L459 34.31 L459.5 34.39 L460 34.37 L460.5 34.19 L461 34.68 L461.5 35.19 L462 35.54 L462.5 35.56 L463 35.69 L463.5 35.5 L464 35.74 L464.5 35.69 L465 35.54 L465.5 35.49 L466 35.6 L466.5 35.46 L467 35.21 L467.5 35.18 L468 35.4 L468.5 35.85 L469 36.35 L469.5 36.52 L470 36.57 L470.5 36.39 L471 36.15 L471.5 35.68 L472 35.42 L472.5 35.25 L473 35.34 L473.5 35.37 L474 35.09 L474.5 34.63 L475 34.3 L475.5 34.26 L476 34.6 L476.5 34.74 L477 34.82 L477.5 35.13 L478 35.33 L478.5 35.41 L479 35.34 L479.5 35.35 L480 35.45 L480.5 35.4 L481 35.28 L481.5 35.01 L482 34.72 L482.5 35.06 L483 35.3 L483.5 35.25 L484 35.22 L484.5 35.11 L485 35.58 L485.5 36.1 L486 36.7 L486.5 36.4 L487 35.74 L487.5 35.26 L488 34.81 L488.5 34.69 L489 34.25 L489.5 33.97 L490 33.97 L490.5 34.35 L491 34.48 L491.5 34.71 L492 34.61 L492.5 34.92 L493 35.18 L493.5 35.34 L494 35.14 L494.5 34.77 L495 34.54 L495.5 34.27 L496 34.29 L496.5 34.03 L497 34.02 L497.5 33.8 L498 33.69 L498.5 33.32 L499 33.28 L499.5 33.5 L500 33.7 L500.5 34.13 L501 34.62 L501.5 34.91 L502 34.62 L502.5 33.91 L503 33.53 L503.5 33.6 L504 33.69 L504.5 33.4 L505 33.16 L505.5 33.48 L506 33.92 L506.5 34.45 L507 34.73 L507.5 34.72 L508 34.44 L508.5 33.9 L509 33.39 L509.5 33 L510 32.41 L510.5 32.03 L511 31.63 L511.5 31.19 L512 31.62 L512.5 31.89 L513 32.6 L513.5 33.5 L514 34.14 L514.5 34.63 L515 34.18 L515.5 33.5 L516 32.84 L516.5 32.72 L517 32.59 L517.5 32.66 L518 32.14 L518.5 31.87 L519 31.48 L519.5 31.24 L520 30.89 L520.5 30.72 L521 30.59 L521.5 31.19 L522 31.5 L522.5 32 L523 32.21 L523.5 32.62 L524 32.77 L524 34.57 L523.5 34.46 L523 34.1 L522.5 33.93 L522 33.46 L521.5 33.2 L521 32.64 L520.5 32.81 L520 33.02 L519.5 33.42 L519 33.69 L518.5 34.13 L518 34.44 L517.5 35.05 L517 35.08 L516.5 35.3 L516 35.52 L515.5 36.26 L515 37.04 L514.5 37.59 L514 37.19 L513.5 36.64 L513 35.84 L512.5 35.23 L512 35.04 L511.5 34.71 L511 35.24 L510.5 35.74 L510 36.21 L509.5 36.82 L509 37.23 L508.5 37.75 L508 38.31 L507.5 38.6 L507 38.63 L506.5 38.36 L506 37.85 L505.5 37.43 L505 37.12 L504.5 37.38 L504 37.69 L503.5 37.62 L503 37.56 L502.5 37.96 L502 38.68 L501.5 38.99 L501 38.72 L500.5 38.24 L500 37.83 L499.5 37.65 L499 37.44 L498.5 37.5 L498 37.89 L497.5 38.02 L497 38.25 L496.5 38.28 L496 38.55 L495.5 38.55 L495 38.84 L494.5 39.02 L494 39.34 L493.5 39.49 L493 39.28 L492.5 38.97 L492 38.61 L491.5 38.66 L491 38.38 L490.5 38.2 L490 37.77 L489.5 37.72 L489 37.95 L488.5 38.34 L488 38.41 L487.5 38.81 L487 39.24 L486.5 39.85 L486 40.1 L485.5 39.45 L485 38.88 L484.5 38.38 L484 38.46 L483.5 38.45 L483 38.47 L482.5 38.19 L482 37.82 L481.5 38.07 L481 38.31 L480.5 38.4 L480 38.41 L479.5 38.28 L479 38.24 L478.5 38.27 L478 38.16 L477.5 37.93 L477 37.58 L476.5 37.47 L476 37.3 L475.5 36.92 L475 36.93 L474.5 37.23 L474 37.66 L473.5 37.9 L473 37.84 L472.5 37.71 L472 37.85 L471.5 38.08 L471 38.52 L470.5 38.73 L470 38.87 L469.5 38.81 L469 38.63 L468.5 38.12 L468 37.67 L467.5 37.44 L467 37.46 L466.5 37.7 L466 37.83 L465.5 37.72 L465 37.76 L464.5 37.9 L464 37.94 L463.5 37.69 L463 37.88 L462.5 37.74 L462 37.7 L461.5 37.35 L461 36.83 L460.5 36.33 L460 36.51 L459.5 36.51 L459 36.43 L458.5 36.12 L458 36.27 L457.5 36.2 L457 36.24 L456.5 36.22 L456 35.9 L455.5 35.43 L455 34.92 L454.5 34.99 L454 35.49 L453.5 35.81 L453 35.79 L452.5 35.82 L452 36.15 L451.5 36.53 L451 37.04 L450.5 37 L450 36.7 L449.5 36.12 L449 35.77 L448.5 35.32 L448 34.97 L447.5 35.06 L447 35.29 L446.5 35.56 L446 35.6 L445.5 35.78 L445 35.87 L444.5 35.52 L444 35.28 L443.5 35.39 L443 35.19 L442.5 35.25 L442 35.27 L441.5 35.56 L441 35.59 L440.5 35.49 L440 35.2 L439.5 35.13 L439 35.22 L438.5 35.73 L438 36.26 L437.5 36.54 L437 36.74 L436.5 36.59 L436 36.26 L435.5 35.77 L435 35.34 L434.5 34.9 L434 34.55 L433.5 34.23 L433 34.02 L432.5 33.8 L432 33.68 L431.5 34.09 L431 34.58 L430.5 35.04 L430 35.71 L429.5 36.34 L429 36.63 L428.5 36.61 L428 36.36 L427.5 36.11 L427 35.67 L426.5 35.43 L426 35.7 L425.5 35.91 L425 35.79 L424.5 35.9 L424 35.88 L423.5 35.92 L423 35.9 L422.5 35.66 L422 35.25 L421.5 34.63 L421 34.35 L420.5 34.09 L420 34.31 L419.5 34.51 L419 34.37 L418.5 34.58 L418 34.63 L417.5 34.69 L417 34.78 L416.5 34.79 L416 34.9 L415.5 35.16 L415 35.16 L414.5 34.99 L414 34.87 L413.5 34.69 L413 34.55 L412.5 33.84 L412 33.72 L411.5 33.61 L411 33.65 L410.5 33.27 L410 33.08 L409.5 32.69 L409 32.63 L408.5 32.92 L408 33.42 L407.5 33.68 L407 34.04 L406.5 34.25 L406 34.64 L405.5 34.02 L405 33.67 L404.5 33.15 L404 32.89 L403.5 32.67 L403 32.68 L402.5 32.83 L402 32.8 L401.5 33.24 L401 33.34 L400.5 33.84 L400 34.02 L399.5 33.59 L399 32.68 L398.5 32.18 L398 31.9 L397.5 31.6 L397 31.12 L396.5 31.26 L396 31.96 L395.5 32.64 L395 32.82 L394.5 32.59 L394 32.61 L393.5 33.05 L393 33.69 L392.5 33.61 L392 33.06 L391.5 32.26 L391 31.68 L390.5 31.34 L390 30.95 L389.5 30.79 L389 30.66 L388.5 30.45 L388 30.83 L387.5 31.31 L387 31.8 L386.5 32.31 L386 32.39 L385.5 32.62 L385 32.39 L384.5 31.84 L384 31.55 L383.5 31.33 L383 30.93 L382.5 30.9 L382 30.46 L381.5 30.08 L381 29.65 L380.5 29.9 L380 30.39 L379.5 30.72 L379 31.24 L378.5 31.34 L378 31.6 L377.5 31.88 L377 32.1 L376.5 31.62 L376 30.64 L375.5 29.85 L375 29.03 L374.5 28.93 L374 29.37 L373.5 30.15 L373 30.47 L372.5 31.36 L372 31.85 L371.5 32.48 L371 33.14 L370.5 33.21 L370 33.18 L369.5 32.97 L369 32.26 L368.5 31.68 L368 30.81 L367.5 29.64 L367 29.3 L366.5 29.68 L366 30.21 L365.5 30.69 L365 30.32 L364.5 29.95 L364 29.42 L363.5 28.9 L363 28.54 L362.5 28.02 L362 27.89 L361.5 27.41 L361 27.37 L360.5 27.48 L360 27.81 L359.5 27.85 L359 27.97 L358.5 27.82 L358 27.81 L357.5 27.52 L357 27.31 L356.5 27.18 L356 27.15 L355.5 26.91 L355 26.83 L354.5 26.62 L354 26.58 L353.5 26.43 L353 26.64 L352.5 26.91 L352 26.73 L351.5 26.62 L351 26.54 L350.5 26.77 L350 26.89 L349.5 26.8 L349 26.73 L348.5 26.81 L348 26.94 L347.5 27.05 L347 27.11 L346.5 26.86 L346 26.73 L345.5 26.51 L345 26.12 L344.5 25.8 L344 26.01 L343.5 26.09 L343 26.03 L342.5 25.88 L342 25.94 L341.5 26.11 L341 26.06 L340.5 25.76 L340 25.55 L339.5 25.61 L339 25.78 L338.5 26.02 L338 26.23 L337.5 26.85 L337 26.88 L336.5 27.12 L336 26.72 L335.5 26.14 L335 25.8 L334.5 25.48 L334 25.53 L333.5 25.37 L333 25.61 L332.5 25.77 L332 25.87 L331.5 26.08 L331 26.1 L330.5 26.18 L330 26.29 L329.5 26.26 L329 26.12 L328.5 25.76 L328 25.55 L327.5 25.54 L327 25.71 L326.5 25.75 L326 26.09 L325.5 26.16 L325 26.11 L324.5 26.09 L324 26.17 L323.5 26.23 L323 26.23 L322.5 25.94 L322 25.81 L321.5 26 L321 26.36 L320.5 26.41 L320 26.28 L319.5 26.31 L319 26.28 L318.5 26.5 L318 26.6 L317.5 26.66 L317 26.43 L316.5 26.26 L316 26.51 L315.5 26.95 L315 27.35 L314.5 27.3 L314 26.86 L313.5 26.46 L313 26.11 L312.5 26.47 L312 26.69 L311.5 26.93 L311 26.63 L310.5 26.25 L310 26.03 L309.5 26.02 L309 26.13 L308.5 25.84 L308 25.45 L307.5 25.13 L307 24.98 L306.5 25.24 L306 25.68 L305.5 26.35 L305 26.76 L304.5 27.04 L304 27.24 L303.5 27.19 L303 27.2 L302.5 27.22 L302 27.87 L301.5 28.16 L301 27.77 L300.5 27.38 L300 27.21Z" fill="#9c9cff" opacity="0.7"/>
</g>
<path d="M81.4 12.43 L81.9 12.48 L82.4 12.71 L82.9 13.11 L83.4 13.62 L83.9 14.19 L84.4 14.73 L84.9 15.17 L85.4 15.47 L85.9 15.59 L86.4 15.52 L86.9 15.3 L87.4 14.97 L87.9 14.61 L88.4 14.3 L88.9 14.09 L89.4 14.04 L89.9 14.17 L90.4 14.46 L90.9 14.89 L91.4 15.41 L91.9 15.94 L92.4 16.42 L92.9 16.77 L93.4 16.96 L93.9 16.96 L94.4 16.79 L94.9 16.49 L95.4 16.11 L95.9 15.73 L96.4 15.43 L96.9 15.26 L97.4 15.26 L97.9 15.45 L98.4 15.81 L98.9 16.28 L99.4 16.82 L99.9 17.34 L100.4 17.77 L100.9 18.05 L101.4 18.16 L101.9 18.09 L102.4 17.85 L102.9 17.51 L103.4 17.13 L103.9 16.78 L104.4 16.54 L104.9 16.45 L105.4 16.55 L105.9 16.82 L106.4 17.24 L106.9 17.76 L107.4 18.3 L107.9 18.79 L108.4 19.16 L108.9 19.37 L109.4 19.39 L109.9 19.24 L110.4 18.97 L110.9 18.63 L111.4 18.29 L111.9 18.01 L112.4 17.86 L112.9 17.89 L113.4 18.1 L113.9 18.48 L114.4 18.98 L114.9 19.55 L115.4 20.11 L115.9 20.58 L116.4 20.91 L116.9 21.06 L117.4 21.03 L117.9 20.84 L118.4 20.53 L118.9 20.18 L119.4 19.86 L119.9 19.63 L120.4 19.55 L120.9 19.64 L121.4 19.91 L121.9 20.33 L122.4 20.85 L122.9 21.41 L123.4 21.91 L123.9 22.3 L124.4 22.54 L124.9 22.58 L125.4 22.45 L125.9 22.18 L126.4 21.82 L126.9 21.46 L127.4 21.15 L127.9 20.97 L128.4 20.96 L128.9 21.14 L129.4 21.48 L129.9 21.96 L130.4 22.5 L130.9 23.03 L131.4 23.48 L131.9 23.79 L132.4 23.93 L132.9 23.88 L133.4 23.67 L133.9 23.34 L134.4 22.96 L134.9 22.6 L135.4 22.34 L135.9 22.23 L136.4 22.29 L136.9 22.54 L137.4 22.94 L137.9 23.45 L138.4 23.99 L138.9 24.49 L139.4 24.89 L139.9 25.12 L140.4 25.17 L140.9 25.04 L141.4 24.76 L141.9 24.39 L142.4 24.01 L142.9 23.68 L143.4 23.48 L143.9 23.44 L144.4 23.58 L144.9 23.9 L145.4 24.36 L145.9 24.88 L146.4 25.41 L146.9 25.87 L147.4 26.19 L147.9 26.33 L148.4 26.3 L148.9 26.09 L149.4 25.76 L149.9 25.38 L150.4 25.03 L150.9 24.76 L151.4 24.63 L151.9 24.68 L152.4 24.89 L152.9 25.26 L153.4 25.74 L153.9 26.25 L154.4 26.73 L154.9 27.11 L155.4 27.34 L155.9 27.4 L156.4 27.28 L156.9 27.02 L157.4 26.68 L157.9 26.31 L158.4 25.98 L158.9 25.77 L159.4 25.72 L159.9 25.84 L160.4 26.13 L160.9 26.56 L161.4 27.05 L161.9 27.56 L162.4 28 L162.9 28.32 L163.4 28.47 L163.9 28.44 L164.4 28.25 L164.9 27.95 L165.4 27.58 L165.9 27.22 L166.4 26.94 L166.9 26.8 L167.4 26.82 L167.9 27.03 L168.4 27.39 L168.9 27.87 L169.4 28.4 L169.9 28.9 L170.4 28.89 L170.9 29.07 L171.4 29.15 L171.9 29.14 L172.4 29.05 L172.9 28.91 L173.4 28.75 L173.9 28.62 L174.4 28.55 L174.9 28.55 L175.4 28.66 L175.9 28.86 L176.4 29.13 L176.9 29.44 L177.4 29.76 L177.9 30.05 L178.4 30.27 L178.9 30.4 L179.4 30.44 L179.9 30.39 L180.4 30.26 L180.9 30.11 L181.4 29.95 L181.9 29.84 L182.4 29.79 L182.9 29.84 L183.4 29.99 L183.9 30.22 L184.4 30.51 L184.9 30.83 L185.4 31.14 L185.9 31.4 L186.4 31.58 L186.9 31.66 L187.4 31.65 L187.9 31.55 L188.4 31.4 L188.9 31.23 L189.4 31.08 L189.9 30.99 L190.4 31.13 L190.9 31.21 L191.4 31.36 L191.9 31.57 L192.4 31.81 L192.9 32.06 L193.4 32.29 L193.9 32.48 L194.4 32.59 L194.9 32.64 L195.4 32.61 L195.9 32.54 L196.4 32.44 L196.9 32.34 L197.4 32.27 L197.9 32.25 L198.4 32.3 L198.9 32.42 L199.4 32.61 L199.9 32.84 L200.4 33.1 L200.9 33.35 L201.4 33.57 L201.9 33.73 L202.4 33.82 L202.9 33.84 L203.4 33.79 L203.9 33.71 L204.4 33.6 L204.9 33.49 L205.4 33.4 L205.9 33.38 L206.4 33.43 L206.9 33.55 L207.4 33.73 L207.9 33.94 L208.4 34.16 L208.9 34.37 L209.4 34.53 L209.9 34.62 L210.4 34.65 L210.9 34.6 L211.4 34.5 L211.9 34.37 L212.4 34.23 L212.9 34.13 L213.4 34.07 L213.9 34.02 L214.4 34.02 L214.9 34.08 L215.4 34.19 L215.9 34.32 L216.4 34.45 L216.9 34.55 L217.4 34.6 L217.9 34.57 L218.4 34.47 L218.9 34.31 L219.4 34.1 L219.9 33.88 L220.4 33.67 L220.9 33.49 L221.4 33.37 L221.9 33.33 L222.4 33.35 L222.9 33.44 L223.4 33.56 L223.9 33.69 L224.4 33.8 L224.9 33.87 L225.4 33.88 L225.9 33.82 L226.4 33.68 L226.9 33.49 L227.4 33.27 L227.9 33.04 L228.4 32.83 L228.9 32.68 L229.4 32.59 L229.9 32.57 L230.4 32.62 L230.9 32.72 L231.4 32.85 L231.9 32.98 L232.4 33.1 L232.9 33.16 L233.4 33.15 L233.9 33.07 L234.4 32.93 L234.9 32.74 L235.4 32.53 L235.9 32.33 L236.4 32.2 L236.9 32.15 L237.4 32.17 L237.9 32.23 L238.4 32.3 L238.9 32.34 L239.4 32.35 L239.9 32.31 L240.4 32.29 L240.9 32.27 L241.4 32.25 L241.9 32.23 L242.4 32.22 L242.9 32.2 L243.4 32.18 L243.9 32.16 L244.4 32.15 L244.9 32.13" fill="none" stroke="#0000ff" stroke-width="1.6" stroke-linejoin="round" stroke-linecap="round"/>
<path d="M244.9 32.13 L245.4 32.11 L245.9 32.02 L246.4 31.86 L246.9 31.68 L247.4 31.52 L247.9 31.33 L248.4 31.17 L248.9 30.98 L249.4 30.84 L249.9 30.72 L250.4 30.57 L250.9 30.49 L251.4 30.35 L251.9 30.25 L252.4 30.09 L252.9 30 L253.4 29.88 L253.9 29.83 L254.4 29.75 L254.9 29.66 L255.4 29.52 L255.9 29.43 L256.4 29.36 L256.9 29.37 L257.4 29.34 L257.9 29.6 L258.4 29.62 L258.9 29.65 L259.4 29.53 L259.9 29.25 L260.4 29.26 L260.9 29.2 L261.4 29.08 L261.9 28.69 L262.4 28.43 L262.9 28.11 L263.4 28.19 L263.9 28.31 L264.4 28.6 L264.9 28.87 L265.4 29.12 L265.9 29.2 L266.4 28.98 L266.9 28.86 L267.4 28.39 L267.9 28.1 L268.4 27.83 L268.9 27.87 L269.4 27.98 L269.9 27.99 L270.4 28.24 L270.9 28.37 L271.4 28.36 L271.9 28.47 L272.4 28.56 L272.9 28.64 L273.4 28.54 L273.9 28.34 L274.4 27.74 L274.9 27.36 L275.4 27.13 L275.9 27.31 L276.4 27.44 L276.9 27.42 L277.4 27.55 L277.9 27.58 L278.4 27.58 L278.9 27.32 L279.4 26.98 L279.9 26.97 L280.4 27.02 L280.9 26.69 L281.4 26.49 L281.9 26.48 L282.4 26.76 L282.9 26.31 L283.4 26.22 L283.9 26.07 L284.4 26.05 L284.9 25.76 L285.4 25.56 L285.9 25.67 L286.4 25.62 L286.9 25.27 L287.4 25.09 L287.9 24.88 L288.4 24.97 L288.9 24.87 L289.4 25.34 L289.9 25.64 L290.4 26.01 L290.9 25.7 L291.4 25.46 L291.9 25.22 L292.4 25.35 L292.9 25.48 L293.4 25.85 L293.9 25.86 L294.4 25.74 L294.9 25.6 L295.4 25.78 L295.9 25.27 L296.4 24.87 L296.9 24.94 L297.4 25.44 L297.9 25.5 L298.4 25.09 L298.9 25.11 L299.4 25.12 L299.9 25.38 L300.4 25.51 L300.9 25.86 L301.4 26.39 L301.9 26.22 L302.4 25.41 L302.9 25.4 L303.4 25.35 L303.9 25.46 L304.4 25.27 L304.9 25 L305.4 24.66 L305.9 23.94 L306.4 23.48 L306.9 23.11 L307.4 23.23 L307.9 23.52 L308.4 23.91 L308.9 24.3 L309.4 24.17 L309.9 24.14 L310.4 24.32 L310.9 24.69 L311.4 25.11 L311.9 24.85 L312.4 24.7 L312.9 24.17 L313.4 24.51 L313.9 24.88 L314.4 25.38 L314.9 25.55 L315.4 25.15 L315.9 24.69 L316.4 24.34 L316.9 24.48 L317.4 24.77 L317.9 24.71 L318.4 24.65 L318.9 24.37 L319.4 24.41 L319.9 24.34 L320.4 24.49 L320.9 24.52 L321.4 24.14 L321.9 23.88 L322.4 23.94 L322.9 24.3 L323.4 24.31 L323.9 24.26 L324.4 24.15 L324.9 24.16 L325.4 24.22 L325.9 24.22 L326.4 23.81 L326.9 23.8 L327.4 23.59 L327.9 23.57 L328.4 23.72 L328.9 24.13 L329.4 24.28 L329.9 24.35 L330.4 24.23 L330.9 24.12 L331.4 24.15 L331.9 23.92 L332.4 23.81 L332.9 23.7 L333.4 23.34 L333.9 23.58 L334.4 23.42 L334.9 23.75 L335.4 24.03 L335.9 24.61 L336.4 25.18 L336.9 24.82 L337.4 24.94 L337.9 24.2 L338.4 23.99 L338.9 23.72 L339.4 23.52 L339.9 23.39 L340.4 23.54 L340.9 23.87 L341.4 23.96 L341.9 23.77 L342.4 23.63 L342.9 23.79 L343.4 23.85 L343.9 23.82 L344.4 23.46 L344.9 23.73 L345.4 24.15 L345.9 24.38 L346.4 24.45 L346.9 24.76 L347.4 24.69 L347.9 24.56 L348.4 24.42 L348.9 24.29 L349.4 24.32 L349.9 24.45 L350.4 24.35 L350.9 24.03 L351.4 24.09 L351.9 24.14 L352.4 24.41 L352.9 24.14 L353.4 23.82 L353.9 23.99 L354.4 23.96 L354.9 24.19 L355.4 24.2 L355.9 24.49 L356.4 24.48 L356.9 24.58 L357.4 24.73 L357.9 25.08 L358.4 25.02 L358.9 25.25 L359.4 25.05 L359.9 25.12 L360.4 24.6 L360.9 24.36 L361.4 24.14 L361.9 24.61 L362.4 24.51 L362.9 24.96 L363.4 25.15 L363.9 25.53 L364.4 25.99 L364.9 26.18 L365.4 26.63 L365.9 26.06 L366.4 25.34 L366.9 24.64 L367.4 24.57 L367.9 25.6 L368.4 26.37 L368.9 26.7 L369.4 27.37 L369.9 27.3 L370.4 27.66 L370.9 28.07 L371.4 27.76 L371.9 27.39 L372.4 27.36 L372.9 26.69 L373.4 26.57 L373.9 25.8 L374.4 25.35 L374.9 25.34 L375.4 26.25 L375.9 27.05 L376.4 28.17 L376.9 28.9 L377.4 28.77 L377.9 28.56 L378.4 28.31 L378.9 28.4 L379.4 27.89 L379.9 27.7 L380.4 27.15 L380.9 26.7 L381.4 27.12 L381.9 27.41 L382.4 27.96 L382.9 27.85 L383.4 28.27 L383.9 28.44 L384.4 28.63 L384.9 29.19 L385.4 29.52 L385.9 29.19 L386.4 29.18 L386.9 28.64 L387.4 28.12 L387.9 27.6 L388.4 27.05 L388.9 27.23 L389.4 27.35 L389.9 27.4 L390.4 27.78 L390.9 28.05 L391.4 28.53 L391.9 29.34 L392.4 29.94 L392.9 30.16 L393.4 29.46 L393.9 28.9 L394.4 28.77 L394.9 29.04 L395.4 28.97 L395.9 28.31 L396.4 27.52 L396.9 27.21 L397.4 27.73 L397.9 28.05 L398.4 28.31 L398.9 28.68 L399.4 29.68 L399.9 30.23 L400.4 30.17 L400.9 29.53 L401.4 29.55 L401.9 28.99 L402.4 29.07 L402.9 28.89 L403.4 28.83 L403.9 29.05 L404.4 29.23 L404.9 29.83 L405.4 30.04 L405.9 30.92 L406.4 30.48 L406.9 30.32 L407.4 29.92 L407.9 29.73 L408.4 29.19 L408.9 28.84 L409.4 28.8 L409.9 29.24 L410.4 29.42 L410.9 29.96 L411.4 29.92 L411.9 30.12 L412.4 30.12 L412.9 31.01 L413.4 31.19 L413.9 31.44 L414.4 31.59 L414.9 31.84 L415.4 31.96 L415.9 31.72 L416.4 31.63 L416.9 31.7 L417.4 31.64 L417.9 31.62 L418.4 31.68 L418.9 31.42 L419.4 31.68 L419.9 31.57 L420.4 31.27 L420.9 31.6 L421.4 31.83 L421.9 32.56 L422.4 33.04 L422.9 33.38 L423.4 33.48 L423.9 33.46 L424.4 33.57 L424.9 33.45 L425.4 33.66 L425.9 33.5 L426.4 33.15 L426.9 33.33 L427.4 33.84 L427.9 34.1 L428.4 34.41 L428.9 34.5 L429.4 34.3 L429.9 33.72 L430.4 33.02 L430.9 32.57 L431.4 32.11 L431.9 31.59 L432.4 31.7 L432.9 31.95 L433.4 32.14 L433.9 32.48 L434.4 32.83 L434.9 33.29 L435.4 33.71 L435.9 34.25 L436.4 34.62 L436.9 34.87 L437.4 34.7 L437.9 34.49 L438.4 34 L438.9 33.4 L439.4 33.31 L439.9 33.34 L440.4 33.66 L440.9 33.77 L441.4 33.8 L441.9 33.44 L442.4 33.44 L442.9 33.28 L443.4 33.56 L443.9 33.38 L444.4 33.56 L444.9 34 L445.4 33.94 L445.9 33.7 L446.4 33.71 L446.9 33.43 L447.4 33.18 L447.9 32.98 L448.4 33.28 L448.9 33.77 L449.4 34.04 L449.9 34.67 L450.4 34.99 L450.9 35.16 L451.4 34.62 L451.9 34.23 L452.4 33.82 L452.9 33.76 L453.4 33.84 L453.9 33.58 L454.4 32.99 L454.9 32.77 L455.4 33.28 L455.9 33.76 L456.4 34.14 L456.9 34.18 L457.4 34.08 L457.9 34.22 L458.4 33.94 L458.9 34.3 L459.4 34.37 L459.9 34.44 L460.4 34.09 L460.9 34.57 L461.4 35.1 L461.9 35.54 L462.4 35.51 L462.9 35.76 L463.4 35.44 L463.9 35.74 L464.4 35.73 L464.9 35.56 L465.4 35.46 L465.9 35.62 L466.4 35.51 L466.9 35.23 L467.4 35.14 L467.9 35.32 L468.4 35.73 L468.9 36.31 L469.4 36.5 L469.9 36.61 L470.4 36.43 L470.9 36.26 L471.4 35.73 L471.9 35.46 L472.4 35.23 L472.9 35.32 L473.4 35.42 L473.9 35.18 L474.4 34.71 L474.9 34.33 L475.4 34.18 L475.9 34.57 L476.4 34.74 L476.9 34.75 L477.4 35.08 L477.9 35.31 L478.4 35.42 L478.9 35.35 L479.4 35.32 L479.9 35.45 L480.4 35.42 L480.9 35.32 L481.4 35.1 L481.9 34.65 L482.4 34.99 L482.9 35.32 L483.4 35.24 L483.9 35.28 L484.4 35.01 L484.9 35.49 L485.4 35.94 L485.9 36.74 L486.4 36.54 L486.9 35.83 L487.4 35.37 L487.9 34.82 L488.4 34.79 L488.9 34.32 L489.4 34 L489.9 33.88 L490.4 34.33 L490.9 34.41 L491.4 34.75 L491.9 34.55 L492.4 34.86 L492.9 35.13 L493.4 35.37 L493.9 35.22 L494.4 34.81 L494.9 34.61 L495.4 34.25 L495.9 34.35 L496.4 34.02 L496.9 34.07 L497.4 33.81 L497.9 33.77 L498.4 33.34 L498.9 33.23 L499.4 33.47 L499.9 33.61 L500.4 34.02 L500.9 34.54 L501.4 34.94 L501.9 34.77 L502.4 34.01 L502.9 33.52 L503.4 33.57 L503.9 33.74 L504.4 33.48 L504.9 33.1 L505.4 33.4 L505.9 33.81 L506.4 34.38 L506.9 34.72 L507.4 34.76 L507.9 34.55 L508.4 34.02 L508.9 33.46 L509.4 33.13 L509.9 32.49 L510.4 32.1 L510.9 31.76 L511.4 31.09 L511.9 31.58 L512.4 31.76 L512.9 32.41 L513.4 33.38 L513.9 34 L514.4 34.72 L514.9 34.31 L515.4 33.65 L515.9 32.86 L516.4 32.76 L516.9 32.55 L517.4 32.78 L517.9 32.18 L518.4 31.96 L518.9 31.51 L519.4 31.33 L519.9 30.91 L520.4 30.79 L520.9 30.46 L521.4 31.14 L521.9 31.38 L522.4 31.97 L522.9 32.12 L523.4 32.58 L523.9 32.77" fill="none" stroke="#0a0aff" stroke-width="1.5" stroke-linejoin="round" stroke-linecap="round"/>
<rect x="58.55" y="3.2" width="488.25" height="211.25" fill="none" stroke="#000" stroke-width="1.11"/>
<line x1="69.5" y1="214.45" x2="69.5" y2="219.31" stroke="#000" stroke-width="1.11"/>
<text x="69.5" y="234.7" text-anchor="middle" class="t">0</text>
<line x1="145.4" y1="214.45" x2="145.4" y2="219.31" stroke="#000" stroke-width="1.11"/>
<text x="145.4" y="234.7" text-anchor="middle" class="t">1</text>
<line x1="221.3" y1="214.45" x2="221.3" y2="219.31" stroke="#000" stroke-width="1.11"/>
<text x="221.3" y="234.7" text-anchor="middle" class="t">2</text>
<line x1="297.2" y1="214.45" x2="297.2" y2="219.31" stroke="#000" stroke-width="1.11"/>
<text x="297.2" y="234.7" text-anchor="middle" class="t">3</text>
<line x1="373.1" y1="214.45" x2="373.1" y2="219.31" stroke="#000" stroke-width="1.11"/>
<text x="373.1" y="234.7" text-anchor="middle" class="t">4</text>
<line x1="449" y1="214.45" x2="449" y2="219.31" stroke="#000" stroke-width="1.11"/>
<text x="449" y="234.7" text-anchor="middle" class="t">5</text>
<line x1="524.9" y1="214.45" x2="524.9" y2="219.31" stroke="#000" stroke-width="1.11"/>
<text x="524.9" y="234.7" text-anchor="middle" class="t">6</text>
<line x1="53.69" y1="206" x2="58.55" y2="206" stroke="#000" stroke-width="1.11"/>
<text x="48.5" y="210.95" text-anchor="end" class="t">0.0</text>
<line x1="53.69" y1="167.78" x2="58.55" y2="167.78" stroke="#000" stroke-width="1.11"/>
<text x="48.5" y="172.73" text-anchor="end" class="t">0.2</text>
<line x1="53.69" y1="129.56" x2="58.55" y2="129.56" stroke="#000" stroke-width="1.11"/>
<text x="48.5" y="134.51" text-anchor="end" class="t">0.4</text>
<line x1="53.69" y1="91.34" x2="58.55" y2="91.34" stroke="#000" stroke-width="1.11"/>
<text x="48.5" y="96.29" text-anchor="end" class="t">0.6</text>
<line x1="53.69" y1="53.12" x2="58.55" y2="53.12" stroke="#000" stroke-width="1.11"/>
<text x="48.5" y="58.07" text-anchor="end" class="t">0.8</text>
<line x1="53.69" y1="14.9" x2="58.55" y2="14.9" stroke="#000" stroke-width="1.11"/>
<text x="48.5" y="19.85" text-anchor="end" class="t">1.0</text>
<text x="302.8" y="254.8" text-anchor="middle" class="t" style="letter-spacing:0.38px">Frequency (GHz)</text>
<text transform="translate(15.2 107.6) rotate(-90)" text-anchor="middle" class="t">|<tspan font-style="italic" dx="-0.9">S</tspan><tspan font-size="9.72" dy="2.9">11</tspan><tspan dy="-2.9" dx="0.4">|</tspan></text>
<rect x="344.25" y="52.7" width="195.2" height="52.6" fill="#fff" stroke="none"/>
<path d="M352.5 61.57 L352.75 62.2 L353 63.6 L353.25 62.26 L353.5 63.14 L353.75 62.9 L354 63.73 L354.25 64.24 L354.5 62.95 L354.75 63.35 L355 61.56 L355.25 63.14 L355.5 60.91 L355.75 61.74 L356 63.12 L356.25 64.26 L356.5 64.86 L356.75 65.78 L357 65.9 L357.25 64.8 L357.5 64.31 L357.75 64.73 L358 63.16 L358.25 64.23 L358.5 63.82 L358.75 63.73 L359 63.5 L359.25 63.16 L359.5 63.79 L359.75 64.37 L360 65.2 L360.25 65.72 L360.4 66.31 L360.5 65.86 L360.75 68.22 L361 68.53 L361.25 69.25 L361.5 68.55 L361.75 70.31 L362 70.79 L362.25 70.87 L362.5 72.04 L362.75 73.79 L363 74.18 L363.25 77.09 L363.5 78.85 L363.75 82.38 L364 84.92 L364.25 87.87 L364.3 88.73 L364.5 90.92 L364.75 93.35 L365 95.79 L365.25 100.11 L365.5 101.25 L365.75 98.97 L366 95.7 L366.25 93.64 L366.5 91.81 L366.75 87.56 L366.8 88.01 L367 85.89 L367.25 82.95 L367.5 79.56 L367.75 77.95 L368 74.65 L368.1 74.48 L368.25 73.06 L368.5 72.69 L368.75 70.81 L369 68.24 L369.25 67.22 L369.5 68.05 L369.75 66.19 L370 65.47 L370.25 63.96 L370.3 65.58 L370.5 66.12 L370.75 66.35 L371 64.63 L371.25 66.01 L371.5 64.06 L371.75 63.96 L372 63.63 L372.25 63.89 L372.5 63.66 L372.75 63.59 L373 63.73 L373.25 64.83 L373.5 63.37 L373.75 63.02 L374 64.23 L374.25 63.12 L374.5 63.89 L374.75 64.36 L375 62.36 L375.25 64.16 L375.5 62.21 L375.75 63.37 L375.8 63.11 L376 63.94 L376.25 63.82 L376.5 61.62 L376.75 61.84 L377 63.05 L377.25 63.19 L377.5 61.49 L377.75 62.89 L378 62.1 L378.25 62.75 L378.5 63.59 L378.75 63.16 L379 62.56 L379.25 61.54 L379.5 62.43 L379.75 61.91 L380 60.43 L380.25 62.3 L380.5 62.24 L380.75 62.13 L381 62.06 L381.25 61.76 L381.3 61.52 L381.5 62.35 L381.75 62.07 L382 60.46 L382.25 61.59 L382.5 61.65 L382.75 61.4 L383 60.32 L383.25 60.66 L383.5 60.53 L383.75 62.39 L384 62.41 L384.25 61.42 L384.5 60.07 L384.75 59.75 L385 60.25 L385.25 59.36 L385.5 60.11 L385.75 59.49 L386 59.08 L386.25 59.09 L386.5 59.61 L386.75 60.59 L386.9 59.66 L387 60.26 L387.25 60.04 L387.5 59.8 L387.75 59.78 L388 59.94 L388.25 60.02 L388.5 59.76 L388.75 61.65 L389 61.12 L389.25 61.27 L389.5 63.27 L389.75 62.76 L390 63.07 L390.25 63.9 L390.3 64.95 L390.5 65.68 L390.75 67.66 L391 71.23 L391.25 72.43 L391.3 73.2 L391.5 75.72 L391.75 77.06 L392 80.38 L392.25 82.04 L392.5 86.69 L392.75 88.89 L393 90.99 L393.25 92.21 L393.5 96.62 L393.75 96.89 L393.8 98.42 L394 97.4 L394.25 93.36 L394.5 91.84 L394.75 89.78 L395 86.7 L395.25 82.73 L395.5 81.35 L395.75 76.78 L396 75.19 L396.25 71.76 L396.5 72.05 L396.75 70.13 L397 67.06 L397.1 68.05 L397.25 66.78 L397.5 66.98 L397.75 66.82 L398 65.36 L398.25 66.65 L398.5 66.52 L398.75 64.93 L399 63.63 L399.25 63.57 L399.3 62.95 L399.5 63.35 L399.75 63.08 L400 62.5 L400.25 64.46 L400.5 63.12 L400.75 62.37 L401 62.13 L401.25 62.69 L401.5 61.62 L401.75 62.95 L402 61.65 L402.25 61.52 L402.5 61.72 L402.6 63.59 L402.75 63.38 L403 63.73 L403.25 63.51 L403.5 62.07 L403.75 62.67 L404 62.85 L404.25 62.69 L404.5 63.16 L404.75 62.64 L405 62.15 L405.25 63.86 L405.5 63.79 L405.75 61.88 L405.9 62.37 L406 62.93 L406.25 64.31 L406.5 63.64 L406.75 63.5 L407 63.39 L407.25 64.37 L407.5 65.07 L407.75 65.9 L408 64.08 L408.1 65.7 L408.25 64.7 L408.5 67.6 L408.75 68.23 L409 68.51 L409.25 69.14 L409.5 69.31 L409.75 72.65 L409.9 73.02 L410 72.49 L410.25 71.44 L410.5 68.26 L410.75 69.44 L411 66.02 L411.25 67.45 L411.5 65.85 L411.75 65.12 L411.9 64.17 L412 64.33 L412.25 63.63 L412.5 64.05 L412.75 61.9 L413 63.26 L413.25 63.7 L413.5 63.99 L413.75 62.25 L414 63.21 L414.25 63.44 L414.5 62.52 L414.75 62.68 L415 63.5 L415.25 63.72 L415.5 62.56 L415.75 63.03 L415.8 61.29 L416 62.11 L416.25 61.24 L416.5 61.73 L416.75 62.79 L417 63.34 L417.25 62.41 L417.5 63.52 L417.75 64.11 L418 63.72 L418.25 63.18 L418.5 63.46 L418.75 62.11 L419 62.66 L419.1 62.78 L419.25 61.59 L419.5 62.68 L419.75 64.01 L420 66.43 L420.25 66.45 L420.3 67.86 L420.5 68.33 L420.75 70.34 L420.9 73.2 L421 73.5 L421.25 76.77 L421.5 80.33 L421.75 82.35 L422 84.7 L422.25 89.84 L422.5 92.74 L422.75 97 L422.9 98.77 L423 98.35 L423.25 94.98 L423.5 92.58 L423.75 88.56 L424 85.05 L424.25 82.76 L424.5 80.34 L424.75 77.58 L425 72.81 L425.1 71.17 L425.25 71.29 L425.5 71.19 L425.75 69.34 L426 68.67 L426.25 67.21 L426.5 65.59 L426.75 65.86 L427 65.88 L427.25 65.57 L427.5 63.51 L427.75 63.56 L428 63.46 L428.25 63.07 L428.5 62.3 L428.75 63.56 L429 62.09 L429.25 63.38 L429.5 62.07 L429.75 62.8 L430 64.64 L430.25 64.31 L430.5 62.8 L430.75 61.92 L431 63.96 L431.25 63.65 L431.5 61.99 L431.75 61.31 L432 61.31 L432.25 62.78 L432.5 60.58 L432.75 61.52 L433 61.04 L433.25 60.8 L433.5 60.45 L433.75 60.6 L434 61.26 L434.25 62.3 L434.5 61.51 L434.6 62.24 L434.75 61.78 L435 62.15 L435.25 60.6 L435.5 60.46 L435.75 62.16 L436 62 L436.25 60.92 L436.5 61.66 L436.75 61.1 L437 61.24 L437.25 60.13 L437.5 59.1 L437.75 60.4 L438 61.35 L438.25 60.19 L438.5 60.36 L438.75 59.45 L439 59.96 L439.25 59.38 L439.5 60.96 L439.75 61.11 L440 60.7 L440.25 60.26 L440.5 60.11 L440.75 59.53 L441 59.38 L441.25 60.4 L441.5 58.75 L441.75 60.85 L442 59.34 L442.1 59.24 L442.25 60.66 L442.5 60.21 L442.75 61.17 L443 60.19 L443.25 61.27 L443.5 60.54 L443.75 62 L444 60.34 L444.25 60.74 L444.5 62.75 L444.75 62.56 L445 61.09 L445.25 62.22 L445.4 61.72 L445.5 61.36 L445.75 63.52 L446 64.72 L446.25 65.07 L446.5 65.54 L446.75 65.24 L447 64.78 L447.25 66.33 L447.5 69.31 L447.75 70.27 L448 72.48 L448.25 75.53 L448.5 78.24 L448.75 80.47 L449 82.08 L449.2 85.58 L449.25 85.24 L449.5 88.6 L449.75 90.72 L450 93.92 L450.25 96.76 L450.3 96.64 L450.5 96.15 L450.75 93.86 L451 90.24 L451.25 87.59 L451.5 85.2 L451.75 83.03 L452 79.6 L452.25 76.35 L452.5 73.79 L452.7 72.77 L452.75 71.95 L453 71.29 L453.25 70.52 L453.5 69.23 L453.75 67.49 L454 67.99 L454.25 66.84 L454.5 63.92 L454.7 63.12 L454.75 63.17 L455 63.46 L455.25 64.63 L455.5 63.73 L455.75 63.16 L456 64.57 L456.25 64.32 L456.5 63.43 L456.75 63.66 L457 64.34 L457.25 64.87 L457.5 64.72 L457.75 63.31 L458 63.37 L458.2 64.7 L458.25 63.71 L458.5 63.52 L458.75 64.16 L459 65.84 L459.25 66.5 L459.5 66.5 L459.75 64.74 L460 66.22 L460.25 65.46 L460.5 65.71 L460.75 66.47 L461 67.59 L461.25 68.24 L461.5 69.89 L461.75 70.48 L462 71.64 L462.25 72.33 L462.4 74.57 L462.5 72.68 L462.75 71.52 L463 70.39 L463.25 69.49 L463.5 67.29 L463.75 66.1 L464 67.02 L464.25 66.27 L464.5 63.64 L464.75 64.2 L465 62.36 L465.2 61.61 L465.25 63.03 L465.5 62.53 L465.75 62.99 L466 61.34 L466.25 61.62 L466.5 60.95 L466.75 62.65 L467 60.59 L467.25 62.31 L467.5 61.84 L467.75 62.34 L468 61.87 L468.25 59.89 L468.5 60.4 L468.75 60.4 L469 60.81 L469.25 60.01 L469.5 59.28 L469.75 60.71 L470 59.08 L470.25 60.63 L470.5 61.09 L470.7 60.12 L470.75 60.55 L471 61.8 L471.25 62.13 L471.5 60.25 L471.75 62.1 L472 61.05 L472.25 61.3 L472.5 61.86 L472.75 61.74 L473 61.94 L473.25 61.84 L473.5 61.38 L473.75 61.74 L474 63.37 L474.25 63.39 L474.5 64.49 L474.75 64.24 L475 66.58 L475.25 66.54 L475.3 66 L475.5 67.99 L475.75 68.62 L476 70.56 L476.25 71.9 L476.3 71.07 L476.5 75.2 L476.75 76.77 L477 79.33 L477.25 82.92 L477.4 85.19 L477.5 85.84 L477.75 88.84 L478 90.74 L478.25 95.67 L478.5 97.94 L478.75 95.53 L479 92.16 L479.25 89.71 L479.5 89.52 L479.75 85.03 L479.8 84.57 L480 82.51 L480.25 80.03 L480.5 78.79 L480.75 76.31 L481 74.56 L481.25 70.02 L481.5 69.23 L481.75 67.92 L482 66.84 L482.25 67.98 L482.5 66.09 L482.75 64.95 L483 64.83 L483.25 65.92 L483.5 65.33 L483.75 64.18 L484 64.46 L484.25 62.67 L484.5 63.58 L484.75 63.88 L485 61.97 L485.25 61.43 L485.5 63.08 L485.75 62.63 L486 60.56 L486.25 60.98 L486.5 61.42 L486.75 61.46 L487 61.38 L487.25 61.09 L487.5 59.96 L487.75 62 L488 60.85 L488.25 61.22 L488.5 59.73 L488.75 60.24 L489 61.17 L489.25 59.36 L489.5 59.42 L489.75 59.53 L490 58.98 L490.25 58.81 L490.5 60.02 L490.75 60.64 L491 60.28 L491.25 60.7 L491.5 58.53 L491.75 60.39 L492 60.42 L492.25 58.59 L492.5 58.97 L492.75 58.56 L493 59.59 L493.25 57.9 L493.5 58.2 L493.75 58.8 L494 59.99 L494.25 58.3 L494.5 57.8 L494.75 59.59 L495 58.33 L495.25 58.65 L495.5 58.6 L495.75 59.01 L496 58.98 L496.25 58.02 L496.5 57.44 L496.75 58.08 L497 59.71 L497.25 58.7 L497.5 57.87 L497.75 57.4 L498 57.05 L498.25 57.17 L498.5 58.31 L498.75 58.31 L499 59.1 L499.25 57.88 L499.5 58.94 L499.75 58.32 L500 57 L500.25 56.64 L500.5 57.14 L500.75 58.91 L500.8 57.9 L501 57.09 L501.25 57.9 L501.5 58.1 L501.75 59.16 L502 60.09 L502.25 58.92 L502.5 60.24 L502.75 59.03 L503 60.35 L503.25 61.13 L503.5 59.4 L503.75 58.95 L504 59.22 L504.25 60.3 L504.5 62.84 L504.75 64.97 L505 64.98 L505.25 65.86 L505.5 68.02 L505.75 71.51 L506 73.93 L506.25 78.44 L506.4 78.93 L506.5 82.81 L506.75 86.65 L507 89.14 L507.25 92.44 L507.3 93.85 L507.5 91.02 L507.75 86.53 L508 82.46 L508.25 79.06 L508.3 79.11 L508.5 77.04 L508.75 74.39 L509 71.23 L509.25 70.34 L509.4 68.05 L509.5 68.39 L509.75 68.3 L510 66.23 L510.25 66.75 L510.5 65.08 L510.75 64.33 L511 63.87 L511.25 64.24 L511.5 63.62 L511.75 62.24 L512 61.92 L512.25 62.8 L512.5 62.41 L512.75 63.25 L513 64.99 L513.25 63.99 L513.5 66.66 L513.75 67.17 L514 68.73 L514.25 69.71 L514.5 71.78 L514.75 70.2 L515 69.48 L515.25 68.52 L515.5 68.63 L515.75 66.02 L515.8 65.07 L516 67 L516.25 65.54 L516.5 64.72 L516.75 64.01 L517 63.57 L517.25 63.06 L517.5 62.39 L517.6 62.74 L517.75 62.03 L518 60.79 L518.25 61.15 L518.5 62.82 L518.75 61.07 L519 60 L519.25 61.4 L519.5 60.08 L519.75 59.36 L520 57.96 L520.25 58.46 L520.5 58.79 L520.75 59.16 L521 59.37 L521.25 59.18 L521.5 58.09 L521.75 58.48 L522 57.17 L522.25 57.84 L522.5 57.88 L522.75 58.5 L522.8 57.57 L523 57.42 L523.25 57.84 L523.5 57.14 L523.75 57.87 L524 57 L524.25 58.7 L524.5 56.75 L524.75 56.78 L525 55.8 L525.25 56.31 L525.5 55.44 L525.75 55.49 L526 54.89 L526.25 55.57 L526.5 55.17 L526.7 54.51 L526.75 56.91 L527 55.03 L527.25 55.07 L527.5 55.38 L527.75 55.32 L528 56.15 L528.25 56.19 L528.5 54.9 L528.75 55.76 L529 54.64 L529.25 55.81 L529.5 56 L529.75 56.03 L530 57.16 L530.25 55.26 L530.5 55.16 L530.6 56.09" fill="none" stroke="#0000ff" stroke-width="2.6" stroke-linejoin="round" stroke-linecap="round"/>
<rect x="344.25" y="52.7" width="195.2" height="52.6" fill="none" stroke="#000" stroke-width="1.11"/>
<line x1="361.6" y1="105.3" x2="361.6" y2="110.16" stroke="#000" stroke-width="1.11"/>
<text x="361.6" y="126.0" text-anchor="middle" class="t">3.98</text>
<line x1="446.25" y1="105.3" x2="446.25" y2="110.16" stroke="#000" stroke-width="1.11"/>
<text x="446.25" y="126.0" text-anchor="middle" class="t">3.99</text>
<line x1="530.9" y1="105.3" x2="530.9" y2="110.16" stroke="#000" stroke-width="1.11"/>
<text x="530.9" y="126.0" text-anchor="middle" class="t">4.00</text>
<line x1="339.39" y1="65.5" x2="344.25" y2="65.5" stroke="#000" stroke-width="1.11"/>
<text x="334.09" y="70.45" text-anchor="end" class="t">0.93</text>
<line x1="339.39" y1="93.75" x2="344.25" y2="93.75" stroke="#000" stroke-width="1.11"/>
<text x="334.09" y="98.7" text-anchor="end" class="t">0.91</text>
<text x="411.03" y="86.9" text-anchor="middle" class="s">L</text>
<text x="466.33" y="86.9" text-anchor="middle" class="s">L</text>
<text x="516.93" y="86.9" text-anchor="middle" class="s">L</text>
<rect x="344.25" y="137.1" width="195.25" height="52.5" fill="#fff" stroke="none"/>
<g clip-path="url(#i2clip)"><path d="M352.3 141.11 L352.5 141.18 L352.7 140.98 L352.9 141.25 L353.1 141.06 L353.3 140.93 L353.5 141.11 L353.7 141.12 L353.9 140.96 L354.1 141.15 L354.3 141.12 L354.5 140.87 L354.7 140.83 L354.9 140.73 L355.1 140.93 L355.3 140.9 L355.5 140.93 L355.7 141.24 L355.9 140.79 L356.1 140.83 L356.3 140.94 L356.5 140.97 L356.7 140.89 L356.9 141.12 L357.1 140.87 L357.3 140.75 L357.5 140.92 L357.7 140.68 L357.9 140.84 L358.1 140.88 L358.3 140.93 L358.5 140.95 L358.7 140.53 L358.9 140.84 L359.1 141.1 L359.3 141.24 L359.5 141.01 L359.7 140.96 L359.9 140.71 L360.1 140.67 L360.3 140.81 L360.5 141.21 L360.7 141 L360.9 141.51 L361.1 141.1 L361.3 141.42 L361.5 141.19 L361.7 140.97 L361.9 141.21 L362.1 141.16 L362.3 141.16 L362.5 141.2 L362.7 141.37 L362.9 141.5 L363.1 141.17 L363.3 141.33 L363.5 141.18 L363.7 141.09 L363.9 141.29 L364.1 140.85 L364.3 140.87 L364.5 140.97 L364.7 140.97 L364.9 140.84 L365.1 140.78 L365.3 141.04 L365.5 141.15 L365.7 141.25 L365.9 141.04 L366.1 141.47 L366.3 141.52 L366.5 141.47 L366.7 141.36 L366.9 141.43 L367.1 141.53 L367.3 141.81 L367.5 141.5 L367.7 141.84 L367.9 141.84 L368.1 141.91 L368.3 141.76 L368.5 141.99 L368.7 142.42 L368.9 142.63 L369.1 142.67 L369.3 143.28 L369.5 144.24 L369.7 145.68 L369.9 148.1 L370.1 153.91 L370.3 169.15 L370.5 188.17 L370.5 188.22 L370.7 169.42 L370.9 155.01 L371.1 149.48 L371.3 147.14 L371.5 146.76 L371.7 146.48 L371.9 146.94 L372.1 147.24 L372.3 146.72 L372.5 145.52 L372.7 144.9 L372.9 143.85 L373.1 143.26 L373.3 142.77 L373.5 142.53 L373.7 142.1 L373.9 142.02 L374.1 142 L374.3 141.93 L374.5 141.88 L374.7 141.59 L374.9 141.53 L375.1 141.85 L375.3 141.69 L375.5 141.62 L375.7 141.28 L375.9 141.28 L376.1 141.28 L376.3 141.6 L376.5 141.37 L376.7 141.32 L376.9 141.3 L377.1 141.52 L377.3 141.46 L377.5 141.46 L377.7 140.97 L377.9 141.01 L378.1 141.29 L378.3 140.79 L378.5 141.12 L378.7 140.98 L378.9 140.78 L379.1 140.75 L379.3 140.87 L379.5 140.42 L379.7 140.89 L379.9 140.45 L380.1 140.49 L380.3 140.71 L380.5 140.42 L380.7 140.98 L380.9 140.59 L381.1 140.48 L381.3 140.7 L381.5 140.94 L381.7 141.26 L381.9 140.84 L382.1 141 L382.3 141.23 L382.5 141.42 L382.7 141.44 L382.9 141.3 L383.1 141.5 L383.3 141.7 L383.5 141.86 L383.7 141.7 L383.9 142.08 L384.1 141.74 L384.3 141.98 L384.5 141.94 L384.7 141.65 L384.9 141.86 L385.1 141.53 L385.3 141.95 L385.5 141.81 L385.7 141.86 L385.9 141.96 L386.1 141.74 L386.3 142.17 L386.5 142.12 L386.7 142.16 L386.9 142.13 L387.1 142.48 L387.3 142.58 L387.5 143.08 L387.7 142.87 L387.9 143.09 L388.1 143.5 L388.3 143.9 L388.5 144.73 L388.7 144.91 L388.9 145.82 L389.1 146.55 L389.3 147.99 L389.5 149.45 L389.7 151.77 L389.9 154.84 L390.1 158.96 L390.3 164.38 L390.5 171.08 L390.7 176.89 L390.9 179.96 L390.9 179.47 L391.1 177.22 L391.3 170.73 L391.5 164.64 L391.7 158.79 L391.9 154.59 L392.1 151.61 L392.3 149.79 L392.5 147.71 L392.7 146.59 L392.9 145.84 L393.1 144.72 L393.3 144.41 L393.5 143.95 L393.7 143.36 L393.9 143.52 L394.1 143.07 L394.3 142.88 L394.5 142.88 L394.7 142.9 L394.9 142.41 L395.1 142.27 L395.3 142.55 L395.5 142.29 L395.7 142.36 L395.9 142.21 L396.1 142.39 L396.3 142.2 L396.5 142.4 L396.7 142.32 L396.9 142.21 L397.1 142.53 L397.3 142.82 L397.5 142.9 L397.7 143.06 L397.9 143.28 L398.1 144.24 L398.3 145.24 L398.5 147.17 L398.7 151.2 L398.9 161.58 L399.1 184.74 L399.2 191.5 L399.3 184.9 L399.5 161.93 L399.7 152.08 L399.9 148.5 L400.1 147.28 L400.3 146.72 L400.5 146.98 L400.7 147.43 L400.9 147.16 L401.1 146.23 L401.3 145.18 L401.5 144.33 L401.7 143.29 L401.9 142.75 L402.1 142.33 L402.3 142.21 L402.5 142.23 L402.7 142 L402.9 141.62 L403.1 142.09 L403.3 141.82 L403.5 141.78 L403.7 141.52 L403.9 141.81 L404.1 141.41 L404.3 141.38 L404.5 141.59 L404.7 141.67 L404.9 141.62 L405.1 141.8 L405.3 141.31 L405.5 141.53 L405.7 141.47 L405.9 141.49 L406.1 141.37 L406.3 141.39 L406.5 141.31 L406.7 141.14 L406.9 140.82 L407.1 141.02 L407.3 141.13 L407.5 141.07 L407.7 141.04 L407.9 140.74 L408.1 140.55 L408.3 140.88 L408.5 140.68 L408.7 140.97 L408.9 140.74 L409.1 140.81 L409.3 141.04 L409.5 141.02 L409.7 141.22 L409.9 141.25 L410.1 141.53 L410.3 141.5 L410.5 141.39 L410.7 141.3 L410.9 141.62 L411.1 141.26 L411.3 141.44 L411.5 141.13 L411.7 141.4 L411.9 141.17 L412.1 141.01 L412.3 141.36 L412.5 140.86 L412.7 141.29 L412.9 141.06 L413.1 141.03 L413.3 140.98 L413.5 141.32 L413.7 140.99 L413.9 141.31 L414.1 140.94 L414.3 140.87 L414.5 141.3 L414.7 140.75 L414.9 140.95 L415.1 141.25 L415.3 141.01 L415.5 141.2 L415.7 141.15 L415.9 141.21 L416.1 140.97 L416.3 141.27 L416.5 141.18 L416.7 140.83 L416.9 141.2 L417.1 141.2 L417.3 140.76 L417.5 141.09 L417.7 141.05 L417.9 140.7 L418.1 140.97 L418.3 141.19 L418.5 141.16 L418.7 140.66 L418.9 140.71 L419.1 140.74 L419.3 140.62 L419.5 140.64 L419.7 140.59 L419.9 140.72 L420.1 140.81 L420.3 141.12 L420.5 141.29 L420.7 141.56 L420.9 141 L421.1 141.13 L421.3 141.29 L421.5 141.2 L421.7 140.94 L421.9 141.25 L422.1 140.98 L422.3 141.49 L422.5 141.18 L422.7 141.29 L422.9 141.14 L423.1 141.17 L423.3 140.83 L423.5 140.79 L423.7 140.81 L423.9 141.09 L424.1 140.88 L424.3 141.01 L424.5 141.04 L424.7 141.13 L424.9 141.42 L425.1 141.28 L425.3 141.21 L425.5 141.13 L425.7 141.24 L425.9 141.22 L426.1 141.28 L426.3 141.63 L426.5 141.6 L426.7 141.93 L426.9 142.26 L427.1 142.52 L427.3 142.94 L427.5 143.68 L427.7 145.29 L427.9 148.93 L428.1 158.1 L428.3 178.42 L428.4 185.1 L428.5 178.87 L428.7 158.08 L428.9 148.82 L429.1 145.41 L429.3 143.79 L429.5 142.8 L429.7 142.23 L429.9 142.32 L430.1 141.95 L430.3 142.17 L430.5 142.08 L430.7 141.54 L430.9 141.75 L431.1 141.72 L431.3 141.62 L431.5 141.35 L431.7 141.35 L431.9 141.59 L432.1 141.37 L432.3 141.83 L432.5 141.58 L432.7 141.29 L432.9 141.44 L433.1 141.22 L433.3 141.3 L433.5 141.34 L433.7 141.15 L433.9 141.33 L434.1 141.34 L434.3 140.93 L434.5 141.12 L434.7 140.98 L434.9 141.26 L435.1 141.06 L435.3 141.04 L435.5 141.02 L435.7 141.1 L435.9 140.86 L436.1 141.06 L436.3 140.9 L436.5 141.2 L436.7 141.17 L436.9 141.3 L437.1 141.15 L437.3 141.52 L437.5 141.58 L437.7 141.72 L437.9 141.5 L438.1 141.64 L438.3 142 L438.5 142.34 L438.7 142.11 L438.9 142.58 L439.1 142.75 L439.3 142.41 L439.5 142.9 L439.7 142.93 L439.9 142.78 L440.1 143.05 L440.3 143.29 L440.5 143.39 L440.7 144.04 L440.9 144.36 L441.1 144.93 L441.3 145.97 L441.5 146.62 L441.7 147.56 L441.9 149.01 L442.1 151.24 L442.3 153.88 L442.5 157.86 L442.7 162.61 L442.9 169.29 L443.1 176.38 L443.3 181.52 L443.4 182.17 L443.5 181.9 L443.7 176.81 L443.9 169.71 L444.1 163.23 L444.3 158.03 L444.5 154.26 L444.7 151.1 L444.9 149.15 L445.1 147.87 L445.3 146.82 L445.5 145.72 L445.7 145 L445.9 144.36 L446.1 143.96 L446.3 143.76 L446.5 143.68 L446.7 143.45 L446.9 142.96 L447.1 142.46 L447.3 142.46 L447.5 142.48 L447.7 142.58 L447.9 142.01 L448.1 142.23 L448.3 142.31 L448.5 141.79 L448.7 142.11 L448.9 141.88 L449.1 141.97 L449.3 141.85 L449.5 141.68 L449.7 141.78 L449.9 141.83 L450.1 141.54 L450.3 141.54 L450.5 141.82 L450.7 141.38 L450.9 141.49 L451.1 141.24 L451.3 141.28 L451.5 141.5 L451.7 141.4 L451.9 141.41 L452.1 141.32 L452.3 141.15 L452.5 141.3 L452.7 141.26 L452.9 141.07 L453.1 141.33 L453.3 141.15 L453.5 141.08 L453.7 140.99 L453.9 141.33 L454.1 141.14 L454.3 141.23 L454.5 141.27 L454.7 141.53 L454.9 141.45 L455.1 141.68 L455.3 142.2 L455.5 142.69 L455.7 142.7 L455.9 143.54 L456.1 144.12 L456.3 145.86 L456.5 148.21 L456.7 154.94 L456.9 171.26 L457.1 191.37 L457.1 191.5 L457.3 171.47 L457.5 155.45 L457.7 149.29 L457.9 147.29 L458.1 146.56 L458.3 146.63 L458.5 146.7 L458.7 146.65 L458.9 146.05 L459.1 145.38 L459.3 144.21 L459.5 143.47 L459.7 143.13 L459.9 142.41 L460.1 142.19 L460.3 141.94 L460.5 141.89 L460.7 141.63 L460.9 141.5 L461.1 141.59 L461.3 141.13 L461.5 141.44 L461.7 141.42 L461.9 141.21 L462.1 141.36 L462.3 141.22 L462.5 141.21 L462.7 141.09 L462.9 141.08 L463.1 141.47 L463.3 141.62 L463.5 141.36 L463.7 141.31 L463.9 141.47 L464.1 141.65 L464.3 141.81 L464.5 141.71 L464.7 141.56 L464.9 141.6 L465.1 141.38 L465.3 141.7 L465.5 141.61 L465.7 141.37 L465.9 141.25 L466.1 141.41 L466.3 141.47 L466.5 141.23 L466.7 141.64 L466.9 141.54 L467.1 141.36 L467.3 141.39 L467.5 141.43 L467.7 141.57 L467.9 141.87 L468.1 141.49 L468.3 141.79 L468.5 141.41 L468.7 141.39 L468.9 141.59 L469.1 141.31 L469.3 141.35 L469.5 141.54 L469.7 141.36 L469.9 141.5 L470.1 141.08 L470.3 140.91 L470.5 141.2 L470.7 140.97 L470.9 140.74 L471.1 141 L471.3 140.78 L471.5 140.9 L471.7 141.22 L471.9 141.03 L472.1 141.05 L472.3 140.92 L472.5 140.9 L472.7 141.1 L472.9 141 L473.1 141.18 L473.3 141.39 L473.5 141.25 L473.7 141.29 L473.9 141.27 L474.1 141.63 L474.3 141.27 L474.5 141.26 L474.7 141.43 L474.9 141.34 L475.1 141.33 L475.3 141.29 L475.5 141.26 L475.7 141.02 L475.9 141.27 L476.1 141.27 L476.3 141.42 L476.5 141.15 L476.7 141.31 L476.9 140.9 L477.1 140.96 L477.3 141.01 L477.5 140.92 L477.7 141.26 L477.9 141.36 L478.1 140.99 L478.3 141.25 L478.5 141.24 L478.7 141.13 L478.9 141.06 L479.1 141.14 L479.3 141.05 L479.5 141.1 L479.7 141.21 L479.9 141.15 L480.1 141.39 L480.3 141.34 L480.5 141.43 L480.7 141.28 L480.9 141.51 L481.1 141.25 L481.3 141.59 L481.5 141.53 L481.7 141.18 L481.9 141.51 L482.1 141.51 L482.3 141.28 L482.5 141.69 L482.7 141.58 L482.9 141.67 L483.1 141.65 L483.3 141.57 L483.5 141.61 L483.7 141.43 L483.9 141.58 L484.1 141.78 L484.3 141.93 L484.5 142.79 L484.7 143.2 L484.9 144.44 L485.1 146.52 L485.3 151.75 L485.5 165.26 L485.7 182.67 L485.7 182.48 L485.9 165.4 L486.1 152.03 L486.3 146.95 L486.5 144.32 L486.7 143.1 L486.9 142.57 L487.1 142.22 L487.3 142.12 L487.5 142.05 L487.7 141.88 L487.9 141.83 L488.1 141.61 L488.3 141.36 L488.5 141.7 L488.7 141.72 L488.9 141.4 L489.1 141.52 L489.3 141.61 L489.5 141.5 L489.7 141.69 L489.9 141.94 L490.1 141.43 L490.3 141.54 L490.5 142.06 L490.7 142.09 L490.9 141.77 L491.1 142.19 L491.3 142.39 L491.5 142.54 L491.7 142.54 L491.9 142.8 L492.1 143.08 L492.3 143.33 L492.5 143.34 L492.7 143.56 L492.9 143.76 L493.1 144.52 L493.3 144.75 L493.5 145.2 L493.7 146.02 L493.9 146.22 L494.1 147.33 L494.3 148.74 L494.5 150.88 L494.7 153.32 L494.9 156.46 L495.1 160.97 L495.3 167.07 L495.5 174.64 L495.7 181.03 L495.9 184.26 L495.9 184.21 L496.1 181.37 L496.3 174.59 L496.5 167.12 L496.7 161.16 L496.9 156.71 L497.1 153.26 L497.3 150.56 L497.5 148.67 L497.7 147.4 L497.9 146.08 L498.1 145.11 L498.3 144.52 L498.5 144.23 L498.7 143.76 L498.9 143.7 L499.1 143.21 L499.3 143.17 L499.5 142.92 L499.7 142.61 L499.9 142.21 L500.1 142.04 L500.3 142.32 L500.5 142.18 L500.7 141.74 L500.9 141.87 L501.1 142.17 L501.3 142.13 L501.5 142.1 L501.7 141.97 L501.9 141.75 L502.1 141.83 L502.3 141.41 L502.5 141.75 L502.7 141.66 L502.9 141.49 L503.1 141.47 L503.3 141.59 L503.5 141.33 L503.7 141.39 L503.9 141.42 L504.1 141.42 L504.3 141.2 L504.5 141.1 L504.7 141.12 L504.9 141.37 L505.1 141.14 L505.3 141.34 L505.5 141.16 L505.7 141.16 L505.9 141.17 L506.1 141.29 L506.3 140.94 L506.5 141.08 L506.7 141.06 L506.9 140.89 L507.1 141.19 L507.3 141.03 L507.5 140.96 L507.7 141.01 L507.9 141.07 L508.1 141.16 L508.3 141.19 L508.5 141.12 L508.7 140.84 L508.9 141.12 L509.1 141.36 L509.3 141.04 L509.5 141.16 L509.7 140.98 L509.9 141.32 L510.1 141.08 L510.3 141.51 L510.5 141.17 L510.7 141.23 L510.9 141.11 L511.1 141.18 L511.3 141.07 L511.5 141.49 L511.7 141.21 L511.9 141.31 L512.1 141.41 L512.3 141.37 L512.5 141.66 L512.7 141.98 L512.9 142.64 L513.1 143.01 L513.3 143.41 L513.5 144.9 L513.7 147.07 L513.9 152.88 L514.1 167.54 L514.3 185.52 L514.3 185.55 L514.5 167.58 L514.7 152.88 L514.9 147.27 L515.1 144.39 L515.3 143.09 L515.5 142.28 L515.7 141.91 L515.9 141.44 L516.1 141.52 L516.3 141.24 L516.5 141.2 L516.7 141.28 L516.9 141.12 L517.1 141.42 L517.3 141.45 L517.5 141.15 L517.7 141.2 L517.9 141.19 L518.1 141.61 L518.3 141.63 L518.5 141.57 L518.7 141.32 L518.9 141.43 L519.1 141.25 L519.3 141.23 L519.5 141.81 L519.7 141.59 L519.9 141.44 L520.1 141.25 L520.3 141.55 L520.5 141.08 L520.7 141.41 L520.9 141.44 L521.1 141.53 L521.3 141.46 L521.5 141.5 L521.7 141.43 L521.9 141.26 L522.1 141.53 L522.3 141.09 L522.5 141.01 L522.7 141.16 L522.9 141.22 L523.1 141.11 L523.3 140.88 L523.5 141.2 L523.7 141.24 L523.9 140.88 L524.1 140.7 L524.3 140.6 L524.5 140.84 L524.7 140.61 L524.9 140.53 L525.1 140.86 L525.3 140.77 L525.5 140.87 L525.7 140.91 L525.9 140.78 L526.1 140.89 L526.3 140.85 L526.5 141.17 L526.7 141.14 L526.9 141.31 L527.1 141.32 L527.3 140.89 L527.5 140.69 L527.7 141.05 L527.9 140.89 L528.1 141.21 L528.3 141 L528.5 140.88 L528.7 140.78 L528.9 140.83 L529.1 140.84 L529.3 140.69 L529.5 141.09 L529.7 141.11 L529.9 141.1 L530.1 141.17 L530.3 141.08 L530.5 141.23 L530.7 141.11 L530.9 140.99" fill="none" stroke="#0000ff" stroke-width="2.4" stroke-linejoin="round" stroke-linecap="round"/></g>
<rect x="344.25" y="137.1" width="195.25" height="52.5" fill="none" stroke="#000" stroke-width="1.11"/>
<line x1="420.8" y1="189.6" x2="420.8" y2="194.46" stroke="#000" stroke-width="1.11"/>
<text x="420.8" y="211.0" text-anchor="middle" class="t">0.98</text>
<line x1="505.4" y1="189.6" x2="505.4" y2="194.46" stroke="#000" stroke-width="1.11"/>
<text x="505.4" y="211.0" text-anchor="middle" class="t">0.99</text>
<line x1="339.39" y1="137.1" x2="344.25" y2="137.1" stroke="#000" stroke-width="1.11"/>
<text x="334.09" y="142.05" text-anchor="end" class="t">1.0</text>
<line x1="339.39" y1="184.8" x2="344.25" y2="184.8" stroke="#000" stroke-width="1.11"/>
<text x="334.09" y="189.75" text-anchor="end" class="t">0.5</text>
<text x="387.53" y="186.7" text-anchor="middle" class="s">L</text>
<text x="440.33" y="186.7" text-anchor="middle" class="s">L</text>
<text x="501.63" y="186.7" text-anchor="middle" class="s">L</text>
</svg>
</body></html>
